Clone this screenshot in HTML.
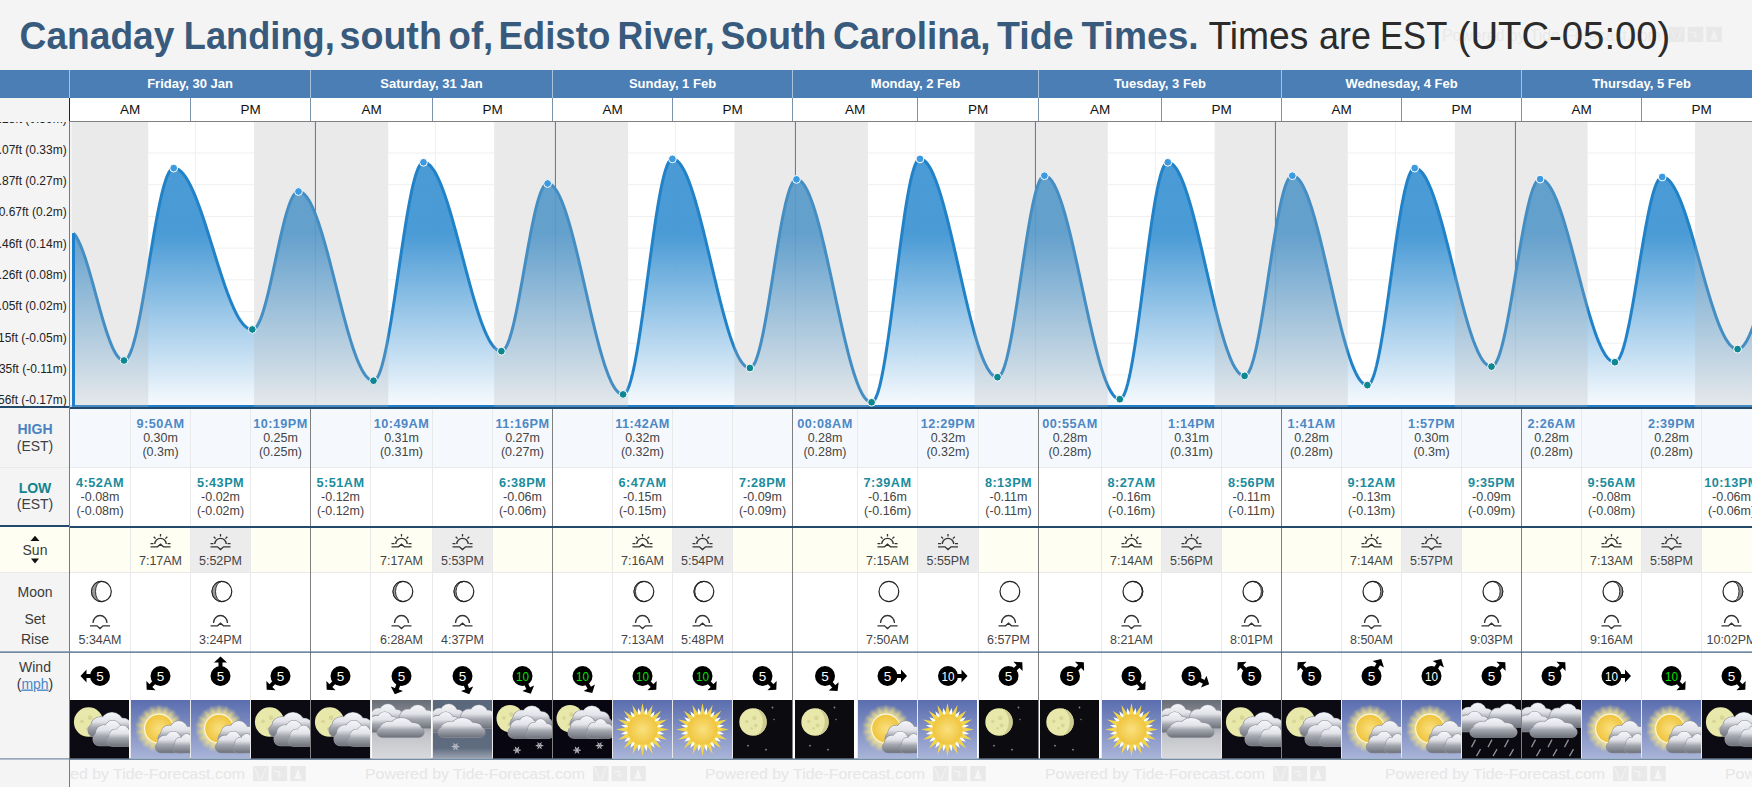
<!DOCTYPE html>
<html><head><meta charset="utf-8"><title>Canaday Landing Tide Times</title>
<style>html,body{margin:0;padding:0;background:#f4f4f4;width:1752px;height:787px;overflow:hidden;font-family:'Liberation Sans', sans-serif}</style>
</head><body><svg width="1752" height="787" viewBox="0 0 1752 787" style="position:absolute;left:0;top:0;font-family:'Liberation Sans', sans-serif"><defs><linearGradient id="gsky" x1="0" y1="0" x2="0" y2="1"><stop offset="0" stop-color="#5a6daf"/><stop offset="1" stop-color="#a9b4d8"/></linearGradient><linearGradient id="gcl" x1="0" y1="0" x2="0" y2="1"><stop offset="0" stop-color="#f5f6fa"/><stop offset="0.38" stop-color="#e2e3e8"/><stop offset="0.62" stop-color="#a3a6ae"/><stop offset="1" stop-color="#6f737c"/></linearGradient><linearGradient id="gcld" x1="0" y1="0" x2="0" y2="1"><stop offset="0" stop-color="#686c75"/><stop offset="0.3" stop-color="#8d9098"/><stop offset="0.6" stop-color="#c3c4c9"/><stop offset="1" stop-color="#d9dadd"/></linearGradient><linearGradient id="gsnow" x1="0" y1="0" x2="0" y2="1"><stop offset="0" stop-color="#5b687b"/><stop offset="0.82" stop-color="#5f6c80"/><stop offset="1" stop-color="#9ea5b2"/></linearGradient><radialGradient id="gsun" cx="0.5" cy="0.5" r="0.5"><stop offset="0" stop-color="#f9e07e"/><stop offset="1" stop-color="#f0c53e"/></radialGradient><radialGradient id="gglow" cx="0.5" cy="0.5" r="0.5"><stop offset="0.5" stop-color="#fffbe0" stop-opacity="0.95"/><stop offset="0.75" stop-color="#f4e7a0" stop-opacity="0.55"/><stop offset="1" stop-color="#e8dc90" stop-opacity="0"/></radialGradient><filter id="fblur" x="-20%" y="-20%" width="140%" height="140%"><feGaussianBlur stdDeviation="0.9"/></filter><g id="w_npc"><rect width="59" height="58.5" fill="#0c0b13"/><circle cx="18.6" cy="22" r="14.7" fill="#e9e8ab"/><circle cx="11.99" cy="21.27" r="1.91" fill="#d8d697"/><circle cx="20.07" cy="17.59" r="2.35" fill="#d8d697"/><circle cx="21.54" cy="25.68" r="2.06" fill="#d8d697"/><circle cx="17.13" cy="28.62" r="1.47" fill="#d8d697"/><path d="M24.24,24.02 L57.76,24.02 A6.24,6.24 0 0 1 57.76,36.50 L24.24,36.50 A6.24,6.24 0 0 1 24.24,24.02 Z M21.22,24.98 a9.66,8.16 0 1 1 19.32,0 a9.66,8.16 0 1 1 -19.32,0 Z M31.34,22.10 a10.58,9.60 0 1 1 21.16,0 a10.58,9.60 0 1 1 -21.16,0 Z M43.76,25.70 a8.74,7.44 0 1 1 17.48,0 a8.74,7.44 0 1 1 -17.48,0 Z " fill="#8d9099" stroke="#8d9099" stroke-width="1.1"/><path d="M24.24,24.02 L57.76,24.02 A6.24,6.24 0 0 1 57.76,36.50 L24.24,36.50 A6.24,6.24 0 0 1 24.24,24.02 Z M21.22,24.98 a9.66,8.16 0 1 1 19.32,0 a9.66,8.16 0 1 1 -19.32,0 Z M31.34,22.10 a10.58,9.60 0 1 1 21.16,0 a10.58,9.60 0 1 1 -21.16,0 Z M43.76,25.70 a8.74,7.44 0 1 1 17.48,0 a8.74,7.44 0 1 1 -17.48,0 Z " fill="url(#gcl)"/><path d="M29.50,32.50 L54.50,32.50 A6.50,6.50 0 0 1 54.50,45.50 L29.50,45.50 A6.50,6.50 0 0 1 29.50,32.50 Z M25.66,33.50 a7.98,8.50 0 1 1 15.96,0 a7.98,8.50 0 1 1 -15.96,0 Z M34.02,30.50 a8.74,10.00 0 1 1 17.48,0 a8.74,10.00 0 1 1 -17.48,0 Z M44.28,34.25 a7.22,7.75 0 1 1 14.44,0 a7.22,7.75 0 1 1 -14.44,0 Z " fill="#8d9099" stroke="#8d9099" stroke-width="1.1"/><path d="M29.50,32.50 L54.50,32.50 A6.50,6.50 0 0 1 54.50,45.50 L29.50,45.50 A6.50,6.50 0 0 1 29.50,32.50 Z M25.66,33.50 a7.98,8.50 0 1 1 15.96,0 a7.98,8.50 0 1 1 -15.96,0 Z M34.02,30.50 a8.74,10.00 0 1 1 17.48,0 a8.74,10.00 0 1 1 -17.48,0 Z M44.28,34.25 a7.22,7.75 0 1 1 14.44,0 a7.22,7.75 0 1 1 -14.44,0 Z " fill="url(#gcl)"/><path d="M42.33,35.34 L61.67,35.34 A5.33,5.33 0 0 1 61.67,46.00 L42.33,46.00 A5.33,5.33 0 0 1 42.33,35.34 Z M39.10,36.16 a6.30,6.97 0 1 1 12.60,0 a6.30,6.97 0 1 1 -12.60,0 Z M45.70,33.70 a6.90,8.20 0 1 1 13.80,0 a6.90,8.20 0 1 1 -13.80,0 Z M53.80,36.77 a5.70,6.35 0 1 1 11.40,0 a5.70,6.35 0 1 1 -11.40,0 Z " fill="#8d9099" stroke="#8d9099" stroke-width="1.1"/><path d="M42.33,35.34 L61.67,35.34 A5.33,5.33 0 0 1 61.67,46.00 L42.33,46.00 A5.33,5.33 0 0 1 42.33,35.34 Z M39.10,36.16 a6.30,6.97 0 1 1 12.60,0 a6.30,6.97 0 1 1 -12.60,0 Z M45.70,33.70 a6.90,8.20 0 1 1 13.80,0 a6.90,8.20 0 1 1 -13.80,0 Z M53.80,36.77 a5.70,6.35 0 1 1 11.40,0 a5.70,6.35 0 1 1 -11.40,0 Z " fill="url(#gcl)"/></g><g id="w_dpc"><rect width="59" height="58.5" fill="url(#gsky)"/><circle cx="28" cy="28.5" r="24" fill="url(#gglow)"/><g filter="url(#fblur)"><path d="M26.66,14.56 L28.00,4.50 L29.34,14.56 Z M31.51,14.95 L36.21,5.95 L34.03,15.86 Z M35.93,16.96 L43.43,10.11 L37.99,18.69 Z M39.40,20.37 L48.78,16.50 L40.74,22.69 Z M41.49,24.76 L51.64,24.33 L41.96,27.40 Z M41.96,29.60 L51.64,32.67 L41.49,32.24 Z M40.74,34.31 L48.78,40.50 L39.40,36.63 Z M37.99,38.31 L43.43,46.89 L35.93,40.04 Z M34.03,41.14 L36.21,51.05 L31.51,42.05 Z M29.34,42.44 L28.00,52.50 L26.66,42.44 Z M24.49,42.05 L19.79,51.05 L21.97,41.14 Z M20.07,40.04 L12.57,46.89 L18.01,38.31 Z M16.60,36.63 L7.22,40.50 L15.26,34.31 Z M14.51,32.24 L4.36,32.67 L14.04,29.60 Z M14.04,27.40 L4.36,24.33 L14.51,24.76 Z M15.26,22.69 L7.22,16.50 L16.60,20.37 Z M18.01,18.69 L12.57,10.11 L20.07,16.96 Z M21.97,15.86 L19.79,5.95 L24.49,14.95 Z " fill="#f2dd6a"/></g><circle cx="28" cy="28.5" r="15" fill="#fffbe8" opacity="0.8"/><circle cx="28" cy="28.5" r="13.8" fill="url(#gsun)"/><path d="M33.24,32.52 L60.76,32.52 A6.24,6.24 0 0 1 60.76,45.00 L33.24,45.00 A6.24,6.24 0 0 1 33.24,32.52 Z M29.80,33.48 a8.40,8.16 0 1 1 16.80,0 a8.40,8.16 0 1 1 -16.80,0 Z M38.60,30.60 a9.20,9.60 0 1 1 18.40,0 a9.20,9.60 0 1 1 -18.40,0 Z M49.40,34.20 a7.60,7.44 0 1 1 15.20,0 a7.60,7.44 0 1 1 -15.20,0 Z " fill="#8d9099" stroke="#8d9099" stroke-width="1.1"/><path d="M33.24,32.52 L60.76,32.52 A6.24,6.24 0 0 1 60.76,45.00 L33.24,45.00 A6.24,6.24 0 0 1 33.24,32.52 Z M29.80,33.48 a8.40,8.16 0 1 1 16.80,0 a8.40,8.16 0 1 1 -16.80,0 Z M38.60,30.60 a9.20,9.60 0 1 1 18.40,0 a9.20,9.60 0 1 1 -18.40,0 Z M49.40,34.20 a7.60,7.44 0 1 1 15.20,0 a7.60,7.44 0 1 1 -15.20,0 Z " fill="url(#gcl)"/><path d="M29.96,41.58 L53.04,41.58 A5.46,5.46 0 0 1 53.04,52.50 L29.96,52.50 A5.46,5.46 0 0 1 29.96,41.58 Z M26.88,42.42 a7.14,7.14 0 1 1 14.28,0 a7.14,7.14 0 1 1 -14.28,0 Z M34.36,39.90 a7.82,8.40 0 1 1 15.64,0 a7.82,8.40 0 1 1 -15.64,0 Z M43.54,43.05 a6.46,6.51 0 1 1 12.92,0 a6.46,6.51 0 1 1 -12.92,0 Z " fill="#8d9099" stroke="#8d9099" stroke-width="1.1"/><path d="M29.96,41.58 L53.04,41.58 A5.46,5.46 0 0 1 53.04,52.50 L29.96,52.50 A5.46,5.46 0 0 1 29.96,41.58 Z M26.88,42.42 a7.14,7.14 0 1 1 14.28,0 a7.14,7.14 0 1 1 -14.28,0 Z M34.36,39.90 a7.82,8.40 0 1 1 15.64,0 a7.82,8.40 0 1 1 -15.64,0 Z M43.54,43.05 a6.46,6.51 0 1 1 12.92,0 a6.46,6.51 0 1 1 -12.92,0 Z " fill="url(#gcl)"/><path d="M46.81,42.88 L63.19,42.88 A4.81,4.81 0 0 1 63.19,52.50 L46.81,52.50 A4.81,4.81 0 0 1 46.81,42.88 Z M43.82,43.62 a5.46,6.29 0 1 1 10.92,0 a5.46,6.29 0 1 1 -10.92,0 Z M49.54,41.40 a5.98,7.40 0 1 1 11.96,0 a5.98,7.40 0 1 1 -11.96,0 Z M56.56,44.17 a4.94,5.74 0 1 1 9.88,0 a4.94,5.74 0 1 1 -9.88,0 Z " fill="#8d9099" stroke="#8d9099" stroke-width="1.1"/><path d="M46.81,42.88 L63.19,42.88 A4.81,4.81 0 0 1 63.19,52.50 L46.81,52.50 A4.81,4.81 0 0 1 46.81,42.88 Z M43.82,43.62 a5.46,6.29 0 1 1 10.92,0 a5.46,6.29 0 1 1 -10.92,0 Z M49.54,41.40 a5.98,7.40 0 1 1 11.96,0 a5.98,7.40 0 1 1 -11.96,0 Z M56.56,44.17 a4.94,5.74 0 1 1 9.88,0 a4.94,5.74 0 1 1 -9.88,0 Z " fill="url(#gcl)"/></g><g id="w_sun"><rect width="59" height="58.5" fill="url(#gsky)"/><path d="M29.50,15.50 L33.79,7.92 L34.86,16.57 Z M34.86,16.57 L41.72,11.21 L39.40,19.60 Z M39.40,19.60 L47.79,17.28 L42.43,24.14 Z M42.43,24.14 L51.08,25.21 L43.50,29.50 Z M43.50,29.50 L51.08,33.79 L42.43,34.86 Z M42.43,34.86 L47.79,41.72 L39.40,39.40 Z M39.40,39.40 L41.72,47.79 L34.86,42.43 Z M34.86,42.43 L33.79,51.08 L29.50,43.50 Z M29.50,43.50 L25.21,51.08 L24.14,42.43 Z M24.14,42.43 L17.28,47.79 L19.60,39.40 Z M19.60,39.40 L11.21,41.72 L16.57,34.86 Z M16.57,34.86 L7.92,33.79 L15.50,29.50 Z M15.50,29.50 L7.92,25.21 L16.57,24.14 Z M16.57,24.14 L11.21,17.28 L19.60,19.60 Z M19.60,19.60 L17.28,11.21 L24.14,16.57 Z M24.14,16.57 L25.21,7.92 L29.50,15.50 Z " fill="#ffffff"/><path d="M27.01,14.71 L29.50,3.00 L31.99,14.71 Z M32.86,14.88 L39.64,5.02 L37.46,16.79 Z M38.20,17.28 L48.24,10.76 L41.72,20.80 Z M42.21,21.54 L53.98,19.36 L44.12,26.14 Z M44.29,27.01 L56.00,29.50 L44.29,31.99 Z M44.12,32.86 L53.98,39.64 L42.21,37.46 Z M41.72,38.20 L48.24,48.24 L38.20,41.72 Z M37.46,42.21 L39.64,53.98 L32.86,44.12 Z M31.99,44.29 L29.50,56.00 L27.01,44.29 Z M26.14,44.12 L19.36,53.98 L21.54,42.21 Z M20.80,41.72 L10.76,48.24 L17.28,38.20 Z M16.79,37.46 L5.02,39.64 L14.88,32.86 Z M14.71,31.99 L3.00,29.50 L14.71,27.01 Z M14.88,26.14 L5.02,19.36 L16.79,21.54 Z M17.28,20.80 L10.76,10.76 L20.80,17.28 Z M21.54,16.79 L19.36,5.02 L26.14,14.88 Z " fill="#f3d54a"/><circle cx="29.5" cy="29.5" r="15.2" fill="url(#gsun)"/></g><g id="w_nclr"><rect width="59" height="58.5" fill="#0b0b10"/><circle cx="20" cy="22" r="13.7" fill="#e9e8ab"/><path d="M20.00,8.30 A13.7,13.7 0 0 1 20.00,35.70 A9.86,13.7 0 0 0 20.00,8.30 Z" fill="#cdcb8f"/><circle cx="13.84" cy="21.32" r="1.78" fill="#d8d697"/><circle cx="21.37" cy="17.89" r="2.19" fill="#d8d697"/><circle cx="22.74" cy="25.43" r="1.92" fill="#d8d697"/><circle cx="18.63" cy="28.16" r="1.37" fill="#d8d697"/><circle cx="39.5" cy="7.5" r="0.9" fill="#8a8a8a"/><circle cx="41" cy="19.5" r="0.7" fill="#8a8a8a"/><circle cx="15" cy="45.5" r="0.9" fill="#8a8a8a"/><circle cx="33" cy="49.5" r="0.9" fill="#8a8a8a"/></g><g id="w_cld"><rect width="59" height="58.5" fill="url(#gcld)"/><path d="M2.24,15.52 L27.76,15.52 A6.24,6.24 0 0 1 27.76,28.00 L2.24,28.00 A6.24,6.24 0 0 1 2.24,15.52 Z M-1.34,16.48 a7.98,8.16 0 1 1 15.96,0 a7.98,8.16 0 1 1 -15.96,0 Z M7.02,13.60 a8.74,9.60 0 1 1 17.48,0 a8.74,9.60 0 1 1 -17.48,0 Z M17.28,17.20 a7.22,7.44 0 1 1 14.44,0 a7.22,7.44 0 1 1 -14.44,0 Z " fill="#8d9099" stroke="#8d9099" stroke-width="1.1"/><path d="M2.24,15.52 L27.76,15.52 A6.24,6.24 0 0 1 27.76,28.00 L2.24,28.00 A6.24,6.24 0 0 1 2.24,15.52 Z M-1.34,16.48 a7.98,8.16 0 1 1 15.96,0 a7.98,8.16 0 1 1 -15.96,0 Z M7.02,13.60 a8.74,9.60 0 1 1 17.48,0 a8.74,9.60 0 1 1 -17.48,0 Z M17.28,17.20 a7.22,7.44 0 1 1 14.44,0 a7.22,7.44 0 1 1 -14.44,0 Z " fill="url(#gcl)"/><path d="M30.98,16.04 L59.02,16.04 A5.98,5.98 0 0 1 59.02,28.00 L30.98,28.00 A5.98,5.98 0 0 1 30.98,16.04 Z M27.80,16.96 a8.40,7.82 0 1 1 16.80,0 a8.40,7.82 0 1 1 -16.80,0 Z M36.60,14.20 a9.20,9.20 0 1 1 18.40,0 a9.20,9.20 0 1 1 -18.40,0 Z M47.40,17.65 a7.60,7.13 0 1 1 15.20,0 a7.60,7.13 0 1 1 -15.20,0 Z " fill="#8d9099" stroke="#8d9099" stroke-width="1.1"/><path d="M30.98,16.04 L59.02,16.04 A5.98,5.98 0 0 1 59.02,28.00 L30.98,28.00 A5.98,5.98 0 0 1 30.98,16.04 Z M27.80,16.96 a8.40,7.82 0 1 1 16.80,0 a8.40,7.82 0 1 1 -16.80,0 Z M36.60,14.20 a9.20,9.20 0 1 1 18.40,0 a9.20,9.20 0 1 1 -18.40,0 Z M47.40,17.65 a7.60,7.13 0 1 1 15.20,0 a7.60,7.13 0 1 1 -15.20,0 Z " fill="url(#gcl)"/><path d="M0.20,21.60 L23.80,21.60 A5.20,5.20 0 0 1 23.80,32.00 L0.20,32.00 A5.20,5.20 0 0 1 0.20,21.60 Z M-2.62,22.40 a7.14,6.80 0 1 1 14.28,0 a7.14,6.80 0 1 1 -14.28,0 Z M4.86,20.00 a7.82,8.00 0 1 1 15.64,0 a7.82,8.00 0 1 1 -15.64,0 Z M14.04,23.00 a6.46,6.20 0 1 1 12.92,0 a6.46,6.20 0 1 1 -12.92,0 Z " fill="#8d9099" stroke="#8d9099" stroke-width="1.1"/><path d="M0.20,21.60 L23.80,21.60 A5.20,5.20 0 0 1 23.80,32.00 L0.20,32.00 A5.20,5.20 0 0 1 0.20,21.60 Z M-2.62,22.40 a7.14,6.80 0 1 1 14.28,0 a7.14,6.80 0 1 1 -14.28,0 Z M4.86,20.00 a7.82,8.00 0 1 1 15.64,0 a7.82,8.00 0 1 1 -15.64,0 Z M14.04,23.00 a6.46,6.20 0 1 1 12.92,0 a6.46,6.20 0 1 1 -12.92,0 Z " fill="url(#gcl)"/><path d="M9.94,27.12 L47.06,27.12 A4.94,4.94 0 0 1 47.06,37.00 L9.94,37.00 A4.94,4.94 0 0 1 9.94,27.12 Z M8.29,27.88 a9.87,6.46 0 1 1 19.74,0 a9.87,6.46 0 1 1 -19.74,0 Z M18.63,25.60 a10.81,7.60 0 1 1 21.62,0 a10.81,7.60 0 1 1 -21.62,0 Z M31.32,28.45 a8.93,5.89 0 1 1 17.86,0 a8.93,5.89 0 1 1 -17.86,0 Z " fill="#8d9099" stroke="#8d9099" stroke-width="1.1"/><path d="M9.94,27.12 L47.06,27.12 A4.94,4.94 0 0 1 47.06,37.00 L9.94,37.00 A4.94,4.94 0 0 1 9.94,27.12 Z M8.29,27.88 a9.87,6.46 0 1 1 19.74,0 a9.87,6.46 0 1 1 -19.74,0 Z M18.63,25.60 a10.81,7.60 0 1 1 21.62,0 a10.81,7.60 0 1 1 -21.62,0 Z M31.32,28.45 a8.93,5.89 0 1 1 17.86,0 a8.93,5.89 0 1 1 -17.86,0 Z " fill="url(#gcl)"/></g><g id="w_cldsnow"><rect width="59" height="58.5" fill="url(#gsnow)"/><path d="M2.24,15.52 L27.76,15.52 A6.24,6.24 0 0 1 27.76,28.00 L2.24,28.00 A6.24,6.24 0 0 1 2.24,15.52 Z M-1.34,16.48 a7.98,8.16 0 1 1 15.96,0 a7.98,8.16 0 1 1 -15.96,0 Z M7.02,13.60 a8.74,9.60 0 1 1 17.48,0 a8.74,9.60 0 1 1 -17.48,0 Z M17.28,17.20 a7.22,7.44 0 1 1 14.44,0 a7.22,7.44 0 1 1 -14.44,0 Z " fill="#8d9099" stroke="#8d9099" stroke-width="1.1"/><path d="M2.24,15.52 L27.76,15.52 A6.24,6.24 0 0 1 27.76,28.00 L2.24,28.00 A6.24,6.24 0 0 1 2.24,15.52 Z M-1.34,16.48 a7.98,8.16 0 1 1 15.96,0 a7.98,8.16 0 1 1 -15.96,0 Z M7.02,13.60 a8.74,9.60 0 1 1 17.48,0 a8.74,9.60 0 1 1 -17.48,0 Z M17.28,17.20 a7.22,7.44 0 1 1 14.44,0 a7.22,7.44 0 1 1 -14.44,0 Z " fill="url(#gcl)"/><path d="M30.98,16.04 L59.02,16.04 A5.98,5.98 0 0 1 59.02,28.00 L30.98,28.00 A5.98,5.98 0 0 1 30.98,16.04 Z M27.80,16.96 a8.40,7.82 0 1 1 16.80,0 a8.40,7.82 0 1 1 -16.80,0 Z M36.60,14.20 a9.20,9.20 0 1 1 18.40,0 a9.20,9.20 0 1 1 -18.40,0 Z M47.40,17.65 a7.60,7.13 0 1 1 15.20,0 a7.60,7.13 0 1 1 -15.20,0 Z " fill="#8d9099" stroke="#8d9099" stroke-width="1.1"/><path d="M30.98,16.04 L59.02,16.04 A5.98,5.98 0 0 1 59.02,28.00 L30.98,28.00 A5.98,5.98 0 0 1 30.98,16.04 Z M27.80,16.96 a8.40,7.82 0 1 1 16.80,0 a8.40,7.82 0 1 1 -16.80,0 Z M36.60,14.20 a9.20,9.20 0 1 1 18.40,0 a9.20,9.20 0 1 1 -18.40,0 Z M47.40,17.65 a7.60,7.13 0 1 1 15.20,0 a7.60,7.13 0 1 1 -15.20,0 Z " fill="url(#gcl)"/><path d="M0.20,21.60 L23.80,21.60 A5.20,5.20 0 0 1 23.80,32.00 L0.20,32.00 A5.20,5.20 0 0 1 0.20,21.60 Z M-2.62,22.40 a7.14,6.80 0 1 1 14.28,0 a7.14,6.80 0 1 1 -14.28,0 Z M4.86,20.00 a7.82,8.00 0 1 1 15.64,0 a7.82,8.00 0 1 1 -15.64,0 Z M14.04,23.00 a6.46,6.20 0 1 1 12.92,0 a6.46,6.20 0 1 1 -12.92,0 Z " fill="#8d9099" stroke="#8d9099" stroke-width="1.1"/><path d="M0.20,21.60 L23.80,21.60 A5.20,5.20 0 0 1 23.80,32.00 L0.20,32.00 A5.20,5.20 0 0 1 0.20,21.60 Z M-2.62,22.40 a7.14,6.80 0 1 1 14.28,0 a7.14,6.80 0 1 1 -14.28,0 Z M4.86,20.00 a7.82,8.00 0 1 1 15.64,0 a7.82,8.00 0 1 1 -15.64,0 Z M14.04,23.00 a6.46,6.20 0 1 1 12.92,0 a6.46,6.20 0 1 1 -12.92,0 Z " fill="url(#gcl)"/><path d="M9.94,27.12 L47.06,27.12 A4.94,4.94 0 0 1 47.06,37.00 L9.94,37.00 A4.94,4.94 0 0 1 9.94,27.12 Z M8.29,27.88 a9.87,6.46 0 1 1 19.74,0 a9.87,6.46 0 1 1 -19.74,0 Z M18.63,25.60 a10.81,7.60 0 1 1 21.62,0 a10.81,7.60 0 1 1 -21.62,0 Z M31.32,28.45 a8.93,5.89 0 1 1 17.86,0 a8.93,5.89 0 1 1 -17.86,0 Z " fill="#8d9099" stroke="#8d9099" stroke-width="1.1"/><path d="M9.94,27.12 L47.06,27.12 A4.94,4.94 0 0 1 47.06,37.00 L9.94,37.00 A4.94,4.94 0 0 1 9.94,27.12 Z M8.29,27.88 a9.87,6.46 0 1 1 19.74,0 a9.87,6.46 0 1 1 -19.74,0 Z M18.63,25.60 a10.81,7.60 0 1 1 21.62,0 a10.81,7.60 0 1 1 -21.62,0 Z M31.32,28.45 a8.93,5.89 0 1 1 17.86,0 a8.93,5.89 0 1 1 -17.86,0 Z " fill="url(#gcl)"/><path d="M18.70,46.50 L26.30,46.50 M20.60,43.21 L24.40,49.79 M24.40,43.21 L20.60,49.79 " stroke="#c9cbd2" stroke-width="0.9"/><circle cx="22.5" cy="46.5" r="2.09" fill="none" stroke="#c9cbd2" stroke-width="0.6"/></g><g id="w_npcsnow"><rect width="59" height="58.5" fill="#080711"/><circle cx="17" cy="18.5" r="13.5" fill="#e9e8ab"/><circle cx="10.93" cy="17.82" r="1.76" fill="#d8d697"/><circle cx="18.35" cy="14.45" r="2.16" fill="#d8d697"/><circle cx="19.70" cy="21.88" r="1.89" fill="#d8d697"/><circle cx="15.65" cy="24.57" r="1.35" fill="#d8d697"/><path d="M23.24,17.52 L52.76,17.52 A6.24,6.24 0 0 1 52.76,30.00 L23.24,30.00 A6.24,6.24 0 0 1 23.24,17.52 Z M19.94,18.48 a8.82,8.16 0 1 1 17.64,0 a8.82,8.16 0 1 1 -17.64,0 Z M29.18,15.60 a9.66,9.60 0 1 1 19.32,0 a9.66,9.60 0 1 1 -19.32,0 Z M40.52,19.20 a7.98,7.44 0 1 1 15.96,0 a7.98,7.44 0 1 1 -15.96,0 Z " fill="#8d9099" stroke="#8d9099" stroke-width="1.1"/><path d="M23.24,17.52 L52.76,17.52 A6.24,6.24 0 0 1 52.76,30.00 L23.24,30.00 A6.24,6.24 0 0 1 23.24,17.52 Z M19.94,18.48 a8.82,8.16 0 1 1 17.64,0 a8.82,8.16 0 1 1 -17.64,0 Z M29.18,15.60 a9.66,9.60 0 1 1 19.32,0 a9.66,9.60 0 1 1 -19.32,0 Z M40.52,19.20 a7.98,7.44 0 1 1 15.96,0 a7.98,7.44 0 1 1 -15.96,0 Z " fill="url(#gcl)"/><path d="M20.72,26.56 L45.28,26.56 A5.72,5.72 0 0 1 45.28,38.00 L20.72,38.00 A5.72,5.72 0 0 1 20.72,26.56 Z M17.52,27.44 a7.56,7.48 0 1 1 15.12,0 a7.56,7.48 0 1 1 -15.12,0 Z M25.44,24.80 a8.28,8.80 0 1 1 16.56,0 a8.28,8.80 0 1 1 -16.56,0 Z M35.16,28.10 a6.84,6.82 0 1 1 13.68,0 a6.84,6.82 0 1 1 -13.68,0 Z " fill="#8d9099" stroke="#8d9099" stroke-width="1.1"/><path d="M20.72,26.56 L45.28,26.56 A5.72,5.72 0 0 1 45.28,38.00 L20.72,38.00 A5.72,5.72 0 0 1 20.72,26.56 Z M17.52,27.44 a7.56,7.48 0 1 1 15.12,0 a7.56,7.48 0 1 1 -15.12,0 Z M25.44,24.80 a8.28,8.80 0 1 1 16.56,0 a8.28,8.80 0 1 1 -16.56,0 Z M35.16,28.10 a6.84,6.82 0 1 1 13.68,0 a6.84,6.82 0 1 1 -13.68,0 Z " fill="url(#gcl)"/><path d="M37.94,28.12 L56.06,28.12 A4.94,4.94 0 0 1 56.06,38.00 L37.94,38.00 A4.94,4.94 0 0 1 37.94,28.12 Z M34.96,28.88 a5.88,6.46 0 1 1 11.76,0 a5.88,6.46 0 1 1 -11.76,0 Z M41.12,26.60 a6.44,7.60 0 1 1 12.88,0 a6.44,7.60 0 1 1 -12.88,0 Z M48.68,29.45 a5.32,5.89 0 1 1 10.64,0 a5.32,5.89 0 1 1 -10.64,0 Z " fill="#8d9099" stroke="#8d9099" stroke-width="1.1"/><path d="M37.94,28.12 L56.06,28.12 A4.94,4.94 0 0 1 56.06,38.00 L37.94,38.00 A4.94,4.94 0 0 1 37.94,28.12 Z M34.96,28.88 a5.88,6.46 0 1 1 11.76,0 a5.88,6.46 0 1 1 -11.76,0 Z M41.12,26.60 a6.44,7.60 0 1 1 12.88,0 a6.44,7.60 0 1 1 -12.88,0 Z M48.68,29.45 a5.32,5.89 0 1 1 10.64,0 a5.32,5.89 0 1 1 -10.64,0 Z " fill="url(#gcl)"/><path d="M20.20,50.00 L27.80,50.00 M22.10,46.71 L25.90,53.29 M25.90,46.71 L22.10,53.29 " stroke="#c9cbd2" stroke-width="0.9"/><circle cx="24" cy="50" r="2.09" fill="none" stroke="#c9cbd2" stroke-width="0.6"/><path d="M42.70,45.50 L50.30,45.50 M44.60,42.21 L48.40,48.79 M48.40,42.21 L44.60,48.79 " stroke="#c9cbd2" stroke-width="0.9"/><circle cx="46.5" cy="45.5" r="2.09" fill="none" stroke="#c9cbd2" stroke-width="0.6"/></g><g id="w_nrain"><rect width="59" height="58.5" fill="#0b0a11"/><path d="M2.24,14.52 L27.76,14.52 A6.24,6.24 0 0 1 27.76,27.00 L2.24,27.00 A6.24,6.24 0 0 1 2.24,14.52 Z M-1.34,15.48 a7.98,8.16 0 1 1 15.96,0 a7.98,8.16 0 1 1 -15.96,0 Z M7.02,12.60 a8.74,9.60 0 1 1 17.48,0 a8.74,9.60 0 1 1 -17.48,0 Z M17.28,16.20 a7.22,7.44 0 1 1 14.44,0 a7.22,7.44 0 1 1 -14.44,0 Z " fill="#8d9099" stroke="#8d9099" stroke-width="1.1"/><path d="M2.24,14.52 L27.76,14.52 A6.24,6.24 0 0 1 27.76,27.00 L2.24,27.00 A6.24,6.24 0 0 1 2.24,14.52 Z M-1.34,15.48 a7.98,8.16 0 1 1 15.96,0 a7.98,8.16 0 1 1 -15.96,0 Z M7.02,12.60 a8.74,9.60 0 1 1 17.48,0 a8.74,9.60 0 1 1 -17.48,0 Z M17.28,16.20 a7.22,7.44 0 1 1 14.44,0 a7.22,7.44 0 1 1 -14.44,0 Z " fill="url(#gcl)"/><path d="M30.98,15.04 L59.02,15.04 A5.98,5.98 0 0 1 59.02,27.00 L30.98,27.00 A5.98,5.98 0 0 1 30.98,15.04 Z M27.80,15.96 a8.40,7.82 0 1 1 16.80,0 a8.40,7.82 0 1 1 -16.80,0 Z M36.60,13.20 a9.20,9.20 0 1 1 18.40,0 a9.20,9.20 0 1 1 -18.40,0 Z M47.40,16.65 a7.60,7.13 0 1 1 15.20,0 a7.60,7.13 0 1 1 -15.20,0 Z " fill="#8d9099" stroke="#8d9099" stroke-width="1.1"/><path d="M30.98,15.04 L59.02,15.04 A5.98,5.98 0 0 1 59.02,27.00 L30.98,27.00 A5.98,5.98 0 0 1 30.98,15.04 Z M27.80,15.96 a8.40,7.82 0 1 1 16.80,0 a8.40,7.82 0 1 1 -16.80,0 Z M36.60,13.20 a9.20,9.20 0 1 1 18.40,0 a9.20,9.20 0 1 1 -18.40,0 Z M47.40,16.65 a7.60,7.13 0 1 1 15.20,0 a7.60,7.13 0 1 1 -15.20,0 Z " fill="url(#gcl)"/><path d="M0.20,21.10 L23.80,21.10 A5.20,5.20 0 0 1 23.80,31.50 L0.20,31.50 A5.20,5.20 0 0 1 0.20,21.10 Z M-2.62,21.90 a7.14,6.80 0 1 1 14.28,0 a7.14,6.80 0 1 1 -14.28,0 Z M4.86,19.50 a7.82,8.00 0 1 1 15.64,0 a7.82,8.00 0 1 1 -15.64,0 Z M14.04,22.50 a6.46,6.20 0 1 1 12.92,0 a6.46,6.20 0 1 1 -12.92,0 Z " fill="#8d9099" stroke="#8d9099" stroke-width="1.1"/><path d="M0.20,21.10 L23.80,21.10 A5.20,5.20 0 0 1 23.80,31.50 L0.20,31.50 A5.20,5.20 0 0 1 0.20,21.10 Z M-2.62,21.90 a7.14,6.80 0 1 1 14.28,0 a7.14,6.80 0 1 1 -14.28,0 Z M4.86,19.50 a7.82,8.00 0 1 1 15.64,0 a7.82,8.00 0 1 1 -15.64,0 Z M14.04,22.50 a6.46,6.20 0 1 1 12.92,0 a6.46,6.20 0 1 1 -12.92,0 Z " fill="url(#gcl)"/><path d="M12.94,27.12 L50.06,27.12 A4.94,4.94 0 0 1 50.06,37.00 L12.94,37.00 A4.94,4.94 0 0 1 12.94,27.12 Z M11.29,27.88 a9.87,6.46 0 1 1 19.74,0 a9.87,6.46 0 1 1 -19.74,0 Z M21.63,25.60 a10.81,7.60 0 1 1 21.62,0 a10.81,7.60 0 1 1 -21.62,0 Z M34.32,28.45 a8.93,5.89 0 1 1 17.86,0 a8.93,5.89 0 1 1 -17.86,0 Z " fill="#8d9099" stroke="#8d9099" stroke-width="1.1"/><path d="M12.94,27.12 L50.06,27.12 A4.94,4.94 0 0 1 50.06,37.00 L12.94,37.00 A4.94,4.94 0 0 1 12.94,27.12 Z M11.29,27.88 a9.87,6.46 0 1 1 19.74,0 a9.87,6.46 0 1 1 -19.74,0 Z M21.63,25.60 a10.81,7.60 0 1 1 21.62,0 a10.81,7.60 0 1 1 -21.62,0 Z M34.32,28.45 a8.93,5.89 0 1 1 17.86,0 a8.93,5.89 0 1 1 -17.86,0 Z " fill="url(#gcl)"/><path d="M13.5,39.5 L9.5,47 M30,39.5 L26,47 M46.5,39.5 L42.5,47 M18.5,49 L14.5,56 M35,49 L31,56 M51.5,49 L47.5,56" stroke="#8d8f96" stroke-width="1.3"/></g></defs><rect x="0" y="0" width="1752" height="787" fill="#f4f4f4"/><text x="1442.00" y="41.00" font-size="17" font-weight="400" fill="#e9e9e9" text-anchor="start" textLength="219" lengthAdjust="spacingAndGlyphs" >Powered by Tide-Forecast.com</text><rect x="1669.1" y="26.8" width="15.6" height="15.2" fill="#e8e8e8"/><rect x="1687.7" y="26.8" width="15.6" height="15.2" fill="#e8e8e8"/><rect x="1706.3" y="26.8" width="15.6" height="15.2" fill="#e8e8e8"/><path d="M1670.1,27.8 C1672.1,27.8 1674.1,40.8 1676.6,40.8 C1679.1,40.8 1680.1,27.8 1683.6,27.8" fill="none" stroke="#f1f1f1" stroke-width="1"/><path d="M1690.1999999999998,32.3 L1695.6999999999998,32.3 L1695.6999999999998,37.3 M1693.1999999999998,35.3 L1695.6999999999998,37.8 L1698.1999999999998,35.3" fill="none" stroke="#f1f1f1" stroke-width="1"/><path d="M1714.1,29.3 L1717.8,39.8 L1710.3,39.8 Z" fill="#f1f1f1"/><text x="19.60" y="49.00" font-size="39" font-weight="700" fill="#385a7c" text-anchor="start" textLength="154.81" lengthAdjust="spacingAndGlyphs" >Canaday</text><text x="183.80" y="49.00" font-size="39" font-weight="700" fill="#385a7c" text-anchor="start" textLength="150.91" lengthAdjust="spacingAndGlyphs" >Landing,</text><text x="339.50" y="49.00" font-size="39" font-weight="700" fill="#385a7c" text-anchor="start" textLength="102.38" lengthAdjust="spacingAndGlyphs" >south</text><text x="448.60" y="49.00" font-size="39" font-weight="700" fill="#385a7c" text-anchor="start" textLength="44.67" lengthAdjust="spacingAndGlyphs" >of,</text><text x="498.40" y="49.00" font-size="39" font-weight="700" fill="#385a7c" text-anchor="start" textLength="111.91" lengthAdjust="spacingAndGlyphs" >Edisto</text><text x="617.60" y="49.00" font-size="39" font-weight="700" fill="#385a7c" text-anchor="start" textLength="97.18" lengthAdjust="spacingAndGlyphs" >River,</text><text x="720.40" y="49.00" font-size="39" font-weight="700" fill="#385a7c" text-anchor="start" textLength="105.88" lengthAdjust="spacingAndGlyphs" >South</text><text x="832.90" y="49.00" font-size="39" font-weight="700" fill="#385a7c" text-anchor="start" textLength="157.67" lengthAdjust="spacingAndGlyphs" >Carolina,</text><text x="997.00" y="49.00" font-size="39" font-weight="700" fill="#385a7c" text-anchor="start" textLength="76.62" lengthAdjust="spacingAndGlyphs" >Tide</text><text x="1081.60" y="49.00" font-size="39" font-weight="700" fill="#385a7c" text-anchor="start" textLength="117.04" lengthAdjust="spacingAndGlyphs" >Times.</text><text x="1208.40" y="49.00" font-size="39" font-weight="400" fill="#2b2b2b" text-anchor="start" textLength="100.04" lengthAdjust="spacingAndGlyphs" >Times</text><text x="1319.00" y="49.00" font-size="39" font-weight="400" fill="#2b2b2b" text-anchor="start" textLength="51.88" lengthAdjust="spacingAndGlyphs" >are</text><text x="1380.00" y="49.00" font-size="39" font-weight="400" fill="#2b2b2b" text-anchor="start" textLength="67.42" lengthAdjust="spacingAndGlyphs" >EST</text><text x="1457.70" y="49.00" font-size="39" font-weight="400" fill="#2b2b2b" text-anchor="start" textLength="212.67" lengthAdjust="spacingAndGlyphs" >(UTC-05:00)</text><rect x="0" y="70" width="1752" height="28" fill="#4a7eb4"/><rect x="69" y="70" width="1" height="28" fill="#a9c3dc"/><text x="190.00" y="88.30" font-size="13" font-weight="700" fill="#ffffff" text-anchor="middle" >Friday, 30 Jan</text><rect x="310" y="70" width="1" height="28" fill="#a9c3dc"/><text x="431.50" y="88.30" font-size="13" font-weight="700" fill="#ffffff" text-anchor="middle" >Saturday, 31 Jan</text><rect x="552" y="70" width="1" height="28" fill="#a9c3dc"/><text x="672.50" y="88.30" font-size="13" font-weight="700" fill="#ffffff" text-anchor="middle" >Sunday, 1 Feb</text><rect x="792" y="70" width="1" height="28" fill="#a9c3dc"/><text x="915.50" y="88.30" font-size="13" font-weight="700" fill="#ffffff" text-anchor="middle" >Monday, 2 Feb</text><rect x="1038" y="70" width="1" height="28" fill="#a9c3dc"/><text x="1160.00" y="88.30" font-size="13" font-weight="700" fill="#ffffff" text-anchor="middle" >Tuesday, 3 Feb</text><rect x="1281" y="70" width="1" height="28" fill="#a9c3dc"/><text x="1401.50" y="88.30" font-size="13" font-weight="700" fill="#ffffff" text-anchor="middle" >Wednesday, 4 Feb</text><rect x="1521" y="70" width="1" height="28" fill="#a9c3dc"/><text x="1641.50" y="88.30" font-size="13" font-weight="700" fill="#ffffff" text-anchor="middle" >Thursday, 5 Feb</text><rect x="70" y="98" width="1682" height="23" fill="#ffffff"/><rect x="69" y="98" width="1" height="23" fill="#222"/><rect x="190" y="98" width="1" height="23" fill="#7a93ad"/><rect x="310" y="98" width="1" height="23" fill="#7a93ad"/><rect x="432" y="98" width="1" height="23" fill="#7a93ad"/><rect x="552" y="98" width="1" height="23" fill="#7a93ad"/><rect x="672" y="98" width="1" height="23" fill="#7a93ad"/><rect x="792" y="98" width="1" height="23" fill="#7a93ad"/><rect x="917" y="98" width="1" height="23" fill="#7a93ad"/><rect x="1038" y="98" width="1" height="23" fill="#7a93ad"/><rect x="1161" y="98" width="1" height="23" fill="#7a93ad"/><rect x="1281" y="98" width="1" height="23" fill="#7a93ad"/><rect x="1401" y="98" width="1" height="23" fill="#7a93ad"/><rect x="1521" y="98" width="1" height="23" fill="#7a93ad"/><rect x="1641" y="98" width="1" height="23" fill="#7a93ad"/><text x="130.00" y="114.30" font-size="13.5" font-weight="400" fill="#111" text-anchor="middle" >AM</text><text x="250.50" y="114.30" font-size="13.5" font-weight="400" fill="#111" text-anchor="middle" >PM</text><text x="371.50" y="114.30" font-size="13.5" font-weight="400" fill="#111" text-anchor="middle" >AM</text><text x="492.50" y="114.30" font-size="13.5" font-weight="400" fill="#111" text-anchor="middle" >PM</text><text x="612.50" y="114.30" font-size="13.5" font-weight="400" fill="#111" text-anchor="middle" >AM</text><text x="732.50" y="114.30" font-size="13.5" font-weight="400" fill="#111" text-anchor="middle" >PM</text><text x="855.00" y="114.30" font-size="13.5" font-weight="400" fill="#111" text-anchor="middle" >AM</text><text x="978.00" y="114.30" font-size="13.5" font-weight="400" fill="#111" text-anchor="middle" >PM</text><text x="1100.00" y="114.30" font-size="13.5" font-weight="400" fill="#111" text-anchor="middle" >AM</text><text x="1221.50" y="114.30" font-size="13.5" font-weight="400" fill="#111" text-anchor="middle" >PM</text><text x="1341.50" y="114.30" font-size="13.5" font-weight="400" fill="#111" text-anchor="middle" >AM</text><text x="1461.50" y="114.30" font-size="13.5" font-weight="400" fill="#111" text-anchor="middle" >PM</text><text x="1581.50" y="114.30" font-size="13.5" font-weight="400" fill="#111" text-anchor="middle" >AM</text><text x="1701.50" y="114.30" font-size="13.5" font-weight="400" fill="#111" text-anchor="middle" >PM</text><defs><clipPath id="cc"><rect x="70" y="122" width="1682" height="285"/></clipPath><linearGradient id="fg" gradientUnits="userSpaceOnUse" x1="0" y1="122" x2="0" y2="407"><stop offset="0" stop-color="#3a92d2"/><stop offset="0.39" stop-color="#3a92d2"/><stop offset="1" stop-color="#f8fbfe"/></linearGradient></defs><g clip-path="url(#cc)"><rect x="70" y="122" width="1682" height="285" fill="#ffffff"/><rect x="70" y="152.50" width="1682" height="1" fill="#efefef"/><rect x="70" y="184.20" width="1682" height="1" fill="#efefef"/><rect x="70" y="215.90" width="1682" height="1" fill="#efefef"/><rect x="70" y="247.60" width="1682" height="1" fill="#efefef"/><rect x="70" y="279.30" width="1682" height="1" fill="#efefef"/><rect x="70" y="311.00" width="1682" height="1" fill="#efefef"/><rect x="70" y="342.70" width="1682" height="1" fill="#efefef"/><rect x="70" y="374.40" width="1682" height="1" fill="#efefef"/><rect x="134.90" y="122" width="1" height="285" fill="#efefef"/><rect x="194.90" y="122" width="1" height="285" fill="#efefef"/><rect x="254.90" y="122" width="1" height="285" fill="#efefef"/><rect x="374.90" y="122" width="1" height="285" fill="#efefef"/><rect x="434.90" y="122" width="1" height="285" fill="#efefef"/><rect x="494.90" y="122" width="1" height="285" fill="#efefef"/><rect x="614.90" y="122" width="1" height="285" fill="#efefef"/><rect x="674.90" y="122" width="1" height="285" fill="#efefef"/><rect x="734.90" y="122" width="1" height="285" fill="#efefef"/><rect x="854.90" y="122" width="1" height="285" fill="#efefef"/><rect x="914.90" y="122" width="1" height="285" fill="#efefef"/><rect x="974.90" y="122" width="1" height="285" fill="#efefef"/><rect x="1094.90" y="122" width="1" height="285" fill="#efefef"/><rect x="1154.90" y="122" width="1" height="285" fill="#efefef"/><rect x="1214.90" y="122" width="1" height="285" fill="#efefef"/><rect x="1334.90" y="122" width="1" height="285" fill="#efefef"/><rect x="1394.90" y="122" width="1" height="285" fill="#efefef"/><rect x="1454.90" y="122" width="1" height="285" fill="#efefef"/><rect x="1574.90" y="122" width="1" height="285" fill="#efefef"/><rect x="1634.90" y="122" width="1" height="285" fill="#efefef"/><rect x="1694.90" y="122" width="1" height="285" fill="#efefef"/><rect x="70.00" y="122" width="78.23" height="285" fill="#fcfcfc"/><rect x="254.07" y="122" width="134.17" height="285" fill="#fcfcfc"/><rect x="494.23" y="122" width="133.83" height="285" fill="#fcfcfc"/><rect x="734.40" y="122" width="133.50" height="285" fill="#fcfcfc"/><rect x="974.57" y="122" width="133.17" height="285" fill="#fcfcfc"/><rect x="1214.73" y="122" width="133.00" height="285" fill="#fcfcfc"/><rect x="1454.90" y="122" width="132.67" height="285" fill="#fcfcfc"/><rect x="1695.07" y="122" width="160.33" height="285" fill="#fcfcfc"/><rect x="314.90" y="122" width="1.1" height="285" fill="#4f6d8a"/><rect x="554.90" y="122" width="1.1" height="285" fill="#4f6d8a"/><rect x="794.90" y="122" width="1.1" height="285" fill="#4f6d8a"/><rect x="1034.90" y="122" width="1.1" height="285" fill="#4f6d8a"/><rect x="1274.90" y="122" width="1.1" height="285" fill="#4f6d8a"/><rect x="1514.90" y="122" width="1.1" height="285" fill="#4f6d8a"/><rect x="1754.90" y="122" width="1.1" height="285" fill="#4f6d8a"/><path d="M73.6,233.2 L74.6,234.4 L75.6,235.8 L76.6,237.4 L77.6,239.2 L78.6,241.2 L79.6,243.3 L80.6,245.6 L81.6,248.1 L82.6,250.7 L83.6,253.4 L84.6,256.3 L85.6,259.3 L86.6,262.4 L87.6,265.6 L88.6,268.9 L89.6,272.3 L90.6,275.8 L91.6,279.3 L92.6,282.9 L93.6,286.5 L94.6,290.1 L95.6,293.8 L96.6,297.4 L97.6,301.1 L98.6,304.7 L99.6,308.3 L100.6,311.9 L101.6,315.4 L102.6,318.9 L103.6,322.2 L104.6,325.5 L105.6,328.7 L106.6,331.8 L107.6,334.8 L108.6,337.6 L109.6,340.3 L110.6,342.9 L111.6,345.3 L112.6,347.6 L113.6,349.7 L114.6,351.6 L115.6,353.4 L116.6,355.0 L117.6,356.3 L118.6,357.5 L119.6,358.5 L120.6,359.3 L121.6,359.9 L122.6,360.3 L123.6,360.5 L124.6,360.4 L125.6,360.0 L126.6,359.2 L127.6,358.0 L128.6,356.5 L129.6,354.5 L130.6,352.2 L131.6,349.6 L132.6,346.6 L133.6,343.3 L134.6,339.7 L135.6,335.8 L136.6,331.6 L137.6,327.1 L138.6,322.4 L139.6,317.4 L140.6,312.2 L141.6,306.9 L142.6,301.3 L143.6,295.6 L144.6,289.8 L145.6,283.9 L146.6,277.9 L147.6,271.9 L148.6,265.8 L149.6,259.7 L150.6,253.7 L151.6,247.7 L152.6,241.7 L153.6,235.8 L154.6,230.1 L155.6,224.5 L156.6,219.0 L157.6,213.8 L158.6,208.7 L159.6,203.8 L160.6,199.2 L161.6,194.9 L162.6,190.8 L163.6,187.0 L164.6,183.6 L165.6,180.4 L166.6,177.6 L167.6,175.2 L168.6,173.1 L169.6,171.3 L170.6,169.9 L171.6,168.9 L172.6,168.3 L173.6,168.1 L174.6,168.2 L175.6,168.3 L176.6,168.6 L177.6,169.1 L178.6,169.6 L179.6,170.3 L180.6,171.1 L181.6,172.1 L182.6,173.2 L183.6,174.3 L184.6,175.6 L185.6,177.1 L186.6,178.6 L187.6,180.2 L188.6,182.0 L189.6,183.9 L190.6,185.8 L191.6,187.9 L192.6,190.1 L193.6,192.3 L194.6,194.7 L195.6,197.1 L196.6,199.6 L197.6,202.2 L198.6,204.9 L199.6,207.6 L200.6,210.4 L201.6,213.3 L202.6,216.2 L203.6,219.2 L204.6,222.2 L205.6,225.3 L206.6,228.4 L207.6,231.5 L208.6,234.7 L209.6,237.9 L210.6,241.1 L211.6,244.3 L212.6,247.5 L213.6,250.7 L214.6,254.0 L215.6,257.2 L216.6,260.4 L217.6,263.6 L218.6,266.7 L219.6,269.8 L220.6,272.9 L221.6,276.0 L222.6,279.0 L223.6,282.0 L224.6,284.9 L225.6,287.7 L226.6,290.5 L227.6,293.3 L228.6,295.9 L229.6,298.5 L230.6,301.0 L231.6,303.4 L232.6,305.7 L233.6,308.0 L234.6,310.1 L235.6,312.2 L236.6,314.1 L237.6,316.0 L238.6,317.7 L239.6,319.3 L240.6,320.8 L241.6,322.2 L242.6,323.5 L243.6,324.7 L244.6,325.7 L245.6,326.6 L246.6,327.4 L247.6,328.1 L248.6,328.6 L249.6,329.0 L250.6,329.3 L251.6,329.5 L252.6,329.5 L253.6,329.2 L254.6,328.7 L255.6,327.8 L256.6,326.6 L257.6,325.1 L258.6,323.3 L259.6,321.2 L260.6,318.8 L261.6,316.2 L262.6,313.3 L263.6,310.1 L264.6,306.7 L265.6,303.2 L266.6,299.4 L267.6,295.4 L268.6,291.3 L269.6,287.0 L270.6,282.6 L271.6,278.1 L272.6,273.6 L273.6,268.9 L274.6,264.3 L275.6,259.6 L276.6,254.9 L277.6,250.2 L278.6,245.6 L279.6,241.1 L280.6,236.6 L281.6,232.3 L282.6,228.1 L283.6,224.0 L284.6,220.1 L285.6,216.4 L286.6,212.9 L287.6,209.6 L288.6,206.6 L289.6,203.8 L290.6,201.2 L291.6,199.0 L292.6,197.0 L293.6,195.3 L294.6,193.9 L295.6,192.8 L296.6,192.1 L297.6,191.6 L298.6,191.5 L299.6,191.6 L300.6,191.9 L301.6,192.3 L302.6,192.9 L303.6,193.7 L304.6,194.6 L305.6,195.7 L306.6,196.9 L307.6,198.3 L308.6,199.8 L309.6,201.5 L310.6,203.4 L311.6,205.4 L312.6,207.5 L313.6,209.8 L314.6,212.2 L315.6,214.7 L316.6,217.4 L317.6,220.2 L318.6,223.1 L319.6,226.1 L320.6,229.2 L321.6,232.4 L322.6,235.7 L323.6,239.1 L324.6,242.6 L325.6,246.2 L326.6,249.8 L327.6,253.5 L328.6,257.2 L329.6,261.0 L330.6,264.9 L331.6,268.8 L332.6,272.7 L333.6,276.6 L334.6,280.6 L335.6,284.5 L336.6,288.5 L337.6,292.4 L338.6,296.4 L339.6,300.3 L340.6,304.2 L341.6,308.1 L342.6,311.9 L343.6,315.7 L344.6,319.4 L345.6,323.1 L346.6,326.7 L347.6,330.3 L348.6,333.7 L349.6,337.1 L350.6,340.4 L351.6,343.6 L352.6,346.7 L353.6,349.7 L354.6,352.6 L355.6,355.3 L356.6,358.0 L357.6,360.5 L358.6,362.9 L359.6,365.1 L360.6,367.2 L361.6,369.2 L362.6,371.0 L363.6,372.7 L364.6,374.2 L365.6,375.6 L366.6,376.8 L367.6,377.8 L368.6,378.7 L369.6,379.4 L370.6,380.0 L371.6,380.4 L372.6,380.6 L373.6,380.7 L374.6,380.4 L375.6,379.8 L376.6,378.6 L377.6,377.1 L378.6,375.1 L379.6,372.8 L380.6,370.0 L381.6,366.9 L382.6,363.3 L383.6,359.4 L384.6,355.2 L385.6,350.6 L386.6,345.8 L387.6,340.6 L388.6,335.1 L389.6,329.4 L390.6,323.5 L391.6,317.4 L392.6,311.1 L393.6,304.6 L394.6,298.0 L395.6,291.3 L396.6,284.5 L397.6,277.7 L398.6,270.8 L399.6,264.0 L400.6,257.1 L401.6,250.4 L402.6,243.7 L403.6,237.1 L404.6,230.7 L405.6,224.4 L406.6,218.3 L407.6,212.4 L408.6,206.8 L409.6,201.4 L410.6,196.2 L411.6,191.4 L412.6,186.9 L413.6,182.8 L414.6,178.9 L415.6,175.5 L416.6,172.4 L417.6,169.7 L418.6,167.4 L419.6,165.6 L420.6,164.1 L421.6,163.1 L422.6,162.5 L423.6,162.3 L424.6,162.4 L425.6,162.6 L426.6,163.0 L427.6,163.6 L428.6,164.3 L429.6,165.1 L430.6,166.1 L431.6,167.3 L432.6,168.6 L433.6,170.0 L434.6,171.6 L435.6,173.3 L436.6,175.2 L437.6,177.2 L438.6,179.3 L439.6,181.5 L440.6,183.9 L441.6,186.4 L442.6,189.0 L443.6,191.7 L444.6,194.5 L445.6,197.4 L446.6,200.4 L447.6,203.5 L448.6,206.7 L449.6,210.0 L450.6,213.3 L451.6,216.7 L452.6,220.2 L453.6,223.8 L454.6,227.3 L455.6,231.0 L456.6,234.7 L457.6,238.4 L458.6,242.1 L459.6,245.9 L460.6,249.7 L461.6,253.5 L462.6,257.3 L463.6,261.1 L464.6,264.9 L465.6,268.7 L466.6,272.5 L467.6,276.2 L468.6,279.9 L469.6,283.6 L470.6,287.2 L471.6,290.8 L472.6,294.3 L473.6,297.8 L474.6,301.2 L475.6,304.5 L476.6,307.8 L477.6,310.9 L478.6,314.0 L479.6,317.0 L480.6,319.9 L481.6,322.7 L482.6,325.3 L483.6,327.9 L484.6,330.3 L485.6,332.7 L486.6,334.9 L487.6,336.9 L488.6,338.9 L489.6,340.7 L490.6,342.4 L491.6,343.9 L492.6,345.3 L493.6,346.6 L494.6,347.7 L495.6,348.6 L496.6,349.4 L497.6,350.1 L498.6,350.6 L499.6,351.0 L500.6,351.2 L501.6,351.2 L502.6,350.9 L503.6,350.3 L504.6,349.2 L505.6,347.8 L506.6,346.0 L507.6,343.9 L508.6,341.3 L509.6,338.5 L510.6,335.3 L511.6,331.8 L512.6,328.0 L513.6,324.0 L514.6,319.6 L515.6,315.1 L516.6,310.3 L517.6,305.3 L518.6,300.1 L519.6,294.8 L520.6,289.3 L521.6,283.8 L522.6,278.2 L523.6,272.5 L524.6,266.8 L525.6,261.1 L526.6,255.4 L527.6,249.8 L528.6,244.3 L529.6,238.9 L530.6,233.6 L531.6,228.4 L532.6,223.5 L533.6,218.7 L534.6,214.2 L535.6,209.9 L536.6,205.9 L537.6,202.2 L538.6,198.7 L539.6,195.6 L540.6,192.8 L541.6,190.4 L542.6,188.3 L543.6,186.6 L544.6,185.2 L545.6,184.3 L546.6,183.7 L547.6,183.5 L548.6,183.6 L549.6,183.9 L550.6,184.3 L551.6,185.0 L552.6,185.8 L553.6,186.8 L554.6,187.9 L555.6,189.3 L556.6,190.8 L557.6,192.5 L558.6,194.4 L559.6,196.4 L560.6,198.6 L561.6,200.9 L562.6,203.4 L563.6,206.0 L564.6,208.8 L565.6,211.7 L566.6,214.8 L567.6,218.0 L568.6,221.3 L569.6,224.7 L570.6,228.2 L571.6,231.9 L572.6,235.6 L573.6,239.4 L574.6,243.3 L575.6,247.3 L576.6,251.4 L577.6,255.5 L578.6,259.7 L579.6,264.0 L580.6,268.2 L581.6,272.6 L582.6,276.9 L583.6,281.3 L584.6,285.7 L585.6,290.0 L586.6,294.4 L587.6,298.8 L588.6,303.2 L589.6,307.5 L590.6,311.8 L591.6,316.1 L592.6,320.3 L593.6,324.4 L594.6,328.5 L595.6,332.6 L596.6,336.5 L597.6,340.4 L598.6,344.2 L599.6,347.9 L600.6,351.5 L601.6,354.9 L602.6,358.3 L603.6,361.6 L604.6,364.7 L605.6,367.7 L606.6,370.5 L607.6,373.2 L608.6,375.8 L609.6,378.2 L610.6,380.5 L611.6,382.6 L612.6,384.5 L613.6,386.3 L614.6,387.9 L615.6,389.3 L616.6,390.6 L617.6,391.7 L618.6,392.6 L619.6,393.3 L620.6,393.8 L621.6,394.2 L622.6,394.4 L623.6,394.3 L624.6,393.9 L625.6,392.9 L626.6,391.5 L627.6,389.6 L628.6,387.2 L629.6,384.4 L630.6,381.2 L631.6,377.5 L632.6,373.5 L633.6,369.0 L634.6,364.2 L635.6,359.0 L636.6,353.5 L637.6,347.6 L638.6,341.5 L639.6,335.1 L640.6,328.5 L641.6,321.6 L642.6,314.6 L643.6,307.4 L644.6,300.1 L645.6,292.7 L646.6,285.3 L647.6,277.8 L648.6,270.3 L649.6,262.8 L650.6,255.4 L651.6,248.1 L652.6,240.8 L653.6,233.8 L654.6,226.9 L655.6,220.2 L656.6,213.7 L657.6,207.5 L658.6,201.6 L659.6,195.9 L660.6,190.6 L661.6,185.7 L662.6,181.1 L663.6,176.9 L664.6,173.1 L665.6,169.8 L666.6,166.9 L667.6,164.4 L668.6,162.3 L669.6,160.8 L670.6,159.7 L671.6,159.1 L672.6,158.9 L673.6,159.0 L674.6,159.3 L675.6,159.8 L676.6,160.4 L677.6,161.2 L678.6,162.2 L679.6,163.3 L680.6,164.6 L681.6,166.1 L682.6,167.7 L683.6,169.5 L684.6,171.4 L685.6,173.5 L686.6,175.7 L687.6,178.1 L688.6,180.6 L689.6,183.3 L690.6,186.1 L691.6,189.0 L692.6,192.0 L693.6,195.2 L694.6,198.5 L695.6,201.8 L696.6,205.3 L697.6,208.9 L698.6,212.5 L699.6,216.3 L700.6,220.1 L701.6,224.0 L702.6,227.9 L703.6,231.9 L704.6,236.0 L705.6,240.1 L706.6,244.3 L707.6,248.5 L708.6,252.7 L709.6,256.9 L710.6,261.1 L711.6,265.4 L712.6,269.6 L713.6,273.8 L714.6,278.0 L715.6,282.2 L716.6,286.4 L717.6,290.5 L718.6,294.5 L719.6,298.6 L720.6,302.5 L721.6,306.4 L722.6,310.3 L723.6,314.0 L724.6,317.7 L725.6,321.2 L726.6,324.7 L727.6,328.1 L728.6,331.4 L729.6,334.6 L730.6,337.6 L731.6,340.5 L732.6,343.3 L733.6,346.0 L734.6,348.5 L735.6,350.9 L736.6,353.2 L737.6,355.3 L738.6,357.2 L739.6,359.0 L740.6,360.7 L741.6,362.1 L742.6,363.5 L743.6,364.6 L744.6,365.6 L745.6,366.4 L746.6,367.1 L747.6,367.5 L748.6,367.9 L749.6,368.0 L750.6,367.9 L751.6,367.4 L752.6,366.4 L753.6,365.1 L754.6,363.3 L755.6,361.1 L756.6,358.5 L757.6,355.6 L758.6,352.2 L759.6,348.5 L760.6,344.5 L761.6,340.2 L762.6,335.5 L763.6,330.6 L764.6,325.4 L765.6,319.9 L766.6,314.3 L767.6,308.5 L768.6,302.5 L769.6,296.4 L770.6,290.1 L771.6,283.9 L772.6,277.5 L773.6,271.2 L774.6,264.8 L775.6,258.5 L776.6,252.3 L777.6,246.1 L778.6,240.1 L779.6,234.3 L780.6,228.6 L781.6,223.1 L782.6,217.9 L783.6,212.9 L784.6,208.2 L785.6,203.7 L786.6,199.6 L787.6,195.9 L788.6,192.5 L789.6,189.4 L790.6,186.8 L791.6,184.5 L792.6,182.6 L793.6,181.2 L794.6,180.2 L795.6,179.6 L796.6,179.4 L797.6,179.5 L798.6,179.8 L799.6,180.3 L800.6,181.0 L801.6,181.9 L802.6,183.0 L803.6,184.3 L804.6,185.7 L805.6,187.4 L806.6,189.2 L807.6,191.2 L808.6,193.4 L809.6,195.7 L810.6,198.2 L811.6,200.9 L812.6,203.7 L813.6,206.7 L814.6,209.8 L815.6,213.1 L816.6,216.5 L817.6,220.1 L818.6,223.7 L819.6,227.5 L820.6,231.4 L821.6,235.4 L822.6,239.5 L823.6,243.7 L824.6,247.9 L825.6,252.3 L826.6,256.7 L827.6,261.1 L828.6,265.7 L829.6,270.2 L830.6,274.8 L831.6,279.4 L832.6,284.1 L833.6,288.8 L834.6,293.4 L835.6,298.1 L836.6,302.7 L837.6,307.3 L838.6,311.9 L839.6,316.5 L840.6,321.0 L841.6,325.5 L842.6,329.9 L843.6,334.2 L844.6,338.5 L845.6,342.6 L846.6,346.7 L847.6,350.7 L848.6,354.6 L849.6,358.3 L850.6,362.0 L851.6,365.5 L852.6,368.9 L853.6,372.2 L854.6,375.3 L855.6,378.3 L856.6,381.1 L857.6,383.7 L858.6,386.2 L859.6,388.6 L860.6,390.7 L861.6,392.7 L862.6,394.5 L863.6,396.1 L864.6,397.6 L865.6,398.8 L866.6,399.9 L867.6,400.7 L868.6,401.4 L869.6,401.9 L870.6,402.2 L871.6,402.3 L872.6,402.0 L873.6,401.3 L874.6,400.0 L875.6,398.2 L876.6,395.9 L877.6,393.2 L878.6,390.0 L879.6,386.3 L880.6,382.1 L881.6,377.6 L882.6,372.6 L883.6,367.2 L884.6,361.5 L885.6,355.4 L886.6,349.0 L887.6,342.4 L888.6,335.4 L889.6,328.3 L890.6,320.9 L891.6,313.4 L892.6,305.7 L893.6,297.9 L894.6,290.1 L895.6,282.2 L896.6,274.3 L897.6,266.4 L898.6,258.6 L899.6,250.9 L900.6,243.3 L901.6,235.9 L902.6,228.6 L903.6,221.6 L904.6,214.8 L905.6,208.3 L906.6,202.1 L907.6,196.2 L908.6,190.7 L909.6,185.6 L910.6,180.9 L911.6,176.5 L912.6,172.7 L913.6,169.3 L914.6,166.3 L915.6,163.8 L916.6,161.9 L917.6,160.4 L918.6,159.4 L919.6,158.9 L920.6,158.9 L921.6,159.1 L922.6,159.5 L923.6,160.1 L924.6,160.8 L925.6,161.7 L926.6,162.8 L927.6,164.0 L928.6,165.5 L929.6,167.1 L930.6,168.8 L931.6,170.7 L932.6,172.8 L933.6,175.1 L934.6,177.5 L935.6,180.0 L936.6,182.7 L937.6,185.5 L938.6,188.5 L939.6,191.6 L940.6,194.8 L941.6,198.1 L942.6,201.6 L943.6,205.2 L944.6,208.8 L945.6,212.6 L946.6,216.4 L947.6,220.4 L948.6,224.4 L949.6,228.5 L950.6,232.6 L951.6,236.9 L952.6,241.1 L953.6,245.4 L954.6,249.8 L955.6,254.2 L956.6,258.5 L957.6,263.0 L958.6,267.4 L959.6,271.8 L960.6,276.2 L961.6,280.6 L962.6,285.0 L963.6,289.4 L964.6,293.7 L965.6,298.0 L966.6,302.2 L967.6,306.4 L968.6,310.5 L969.6,314.5 L970.6,318.5 L971.6,322.4 L972.6,326.2 L973.6,329.9 L974.6,333.5 L975.6,336.9 L976.6,340.3 L977.6,343.6 L978.6,346.7 L979.6,349.7 L980.6,352.6 L981.6,355.3 L982.6,357.9 L983.6,360.3 L984.6,362.6 L985.6,364.7 L986.6,366.7 L987.6,368.5 L988.6,370.2 L989.6,371.7 L990.6,373.0 L991.6,374.1 L992.6,375.1 L993.6,375.8 L994.6,376.4 L995.6,376.9 L996.6,377.1 L997.6,377.2 L998.6,376.9 L999.6,376.2 L1000.6,375.0 L1001.6,373.4 L1002.6,371.4 L1003.6,368.9 L1004.6,366.0 L1005.6,362.7 L1006.6,359.1 L1007.6,355.0 L1008.6,350.6 L1009.6,345.9 L1010.6,340.8 L1011.6,335.5 L1012.6,329.9 L1013.6,324.1 L1014.6,318.0 L1015.6,311.8 L1016.6,305.4 L1017.6,298.9 L1018.6,292.2 L1019.6,285.5 L1020.6,278.8 L1021.6,272.1 L1022.6,265.3 L1023.6,258.7 L1024.6,252.1 L1025.6,245.6 L1026.6,239.2 L1027.6,233.0 L1028.6,227.1 L1029.6,221.3 L1030.6,215.8 L1031.6,210.5 L1032.6,205.6 L1033.6,200.9 L1034.6,196.6 L1035.6,192.7 L1036.6,189.1 L1037.6,186.0 L1038.6,183.2 L1039.6,180.9 L1040.6,178.9 L1041.6,177.5 L1042.6,176.4 L1043.6,175.8 L1044.6,175.7 L1045.6,175.8 L1046.6,176.2 L1047.6,176.7 L1048.6,177.4 L1049.6,178.3 L1050.6,179.4 L1051.6,180.7 L1052.6,182.2 L1053.6,183.8 L1054.6,185.6 L1055.6,187.6 L1056.6,189.8 L1057.6,192.2 L1058.6,194.7 L1059.6,197.4 L1060.6,200.2 L1061.6,203.2 L1062.6,206.3 L1063.6,209.6 L1064.6,213.0 L1065.6,216.5 L1066.6,220.2 L1067.6,224.0 L1068.6,227.9 L1069.6,231.8 L1070.6,235.9 L1071.6,240.1 L1072.6,244.4 L1073.6,248.7 L1074.6,253.1 L1075.6,257.6 L1076.6,262.1 L1077.6,266.6 L1078.6,271.2 L1079.6,275.8 L1080.6,280.5 L1081.6,285.1 L1082.6,289.8 L1083.6,294.4 L1084.6,299.1 L1085.6,303.7 L1086.6,308.3 L1087.6,312.8 L1088.6,317.3 L1089.6,321.8 L1090.6,326.2 L1091.6,330.5 L1092.6,334.8 L1093.6,339.0 L1094.6,343.1 L1095.6,347.0 L1096.6,350.9 L1097.6,354.7 L1098.6,358.4 L1099.6,361.9 L1100.6,365.3 L1101.6,368.6 L1102.6,371.7 L1103.6,374.7 L1104.6,377.5 L1105.6,380.2 L1106.6,382.7 L1107.6,385.1 L1108.6,387.3 L1109.6,389.3 L1110.6,391.1 L1111.6,392.7 L1112.6,394.2 L1113.6,395.5 L1114.6,396.6 L1115.6,397.5 L1116.6,398.2 L1117.6,398.7 L1118.6,399.1 L1119.6,399.2 L1120.6,399.0 L1121.6,398.4 L1122.6,397.2 L1123.6,395.6 L1124.6,393.4 L1125.6,390.8 L1126.6,387.7 L1127.6,384.1 L1128.6,380.1 L1129.6,375.7 L1130.6,370.8 L1131.6,365.6 L1132.6,360.0 L1133.6,354.1 L1134.6,347.8 L1135.6,341.3 L1136.6,334.5 L1137.6,327.5 L1138.6,320.3 L1139.6,312.9 L1140.6,305.4 L1141.6,297.7 L1142.6,290.0 L1143.6,282.3 L1144.6,274.6 L1145.6,266.8 L1146.6,259.2 L1147.6,251.6 L1148.6,244.1 L1149.6,236.9 L1150.6,229.8 L1151.6,222.9 L1152.6,216.2 L1153.6,209.9 L1154.6,203.8 L1155.6,198.1 L1156.6,192.7 L1157.6,187.7 L1158.6,183.1 L1159.6,179.0 L1160.6,175.2 L1161.6,171.9 L1162.6,169.1 L1163.6,166.7 L1164.6,164.9 L1165.6,163.5 L1166.6,162.7 L1167.6,162.3 L1168.6,162.4 L1169.6,162.6 L1170.6,163.0 L1171.6,163.6 L1172.6,164.4 L1173.6,165.3 L1174.6,166.4 L1175.6,167.7 L1176.6,169.1 L1177.6,170.8 L1178.6,172.6 L1179.6,174.5 L1180.6,176.6 L1181.6,178.9 L1182.6,181.3 L1183.6,183.8 L1184.6,186.5 L1185.6,189.4 L1186.6,192.4 L1187.6,195.5 L1188.6,198.7 L1189.6,202.0 L1190.6,205.5 L1191.6,209.0 L1192.6,212.7 L1193.6,216.5 L1194.6,220.3 L1195.6,224.2 L1196.6,228.2 L1197.6,232.3 L1198.6,236.4 L1199.6,240.6 L1200.6,244.8 L1201.6,249.1 L1202.6,253.4 L1203.6,257.8 L1204.6,262.1 L1205.6,266.5 L1206.6,270.8 L1207.6,275.2 L1208.6,279.6 L1209.6,283.9 L1210.6,288.2 L1211.6,292.5 L1212.6,296.7 L1213.6,300.9 L1214.6,305.1 L1215.6,309.2 L1216.6,313.2 L1217.6,317.1 L1218.6,321.0 L1219.6,324.8 L1220.6,328.4 L1221.6,332.0 L1222.6,335.5 L1223.6,338.9 L1224.6,342.1 L1225.6,345.2 L1226.6,348.2 L1227.6,351.1 L1228.6,353.8 L1229.6,356.4 L1230.6,358.9 L1231.6,361.2 L1232.6,363.3 L1233.6,365.3 L1234.6,367.1 L1235.6,368.7 L1236.6,370.2 L1237.6,371.6 L1238.6,372.7 L1239.6,373.7 L1240.6,374.5 L1241.6,375.1 L1242.6,375.5 L1243.6,375.8 L1244.6,375.9 L1245.6,375.7 L1246.6,375.0 L1247.6,374.0 L1248.6,372.4 L1249.6,370.5 L1250.6,368.2 L1251.6,365.4 L1252.6,362.3 L1253.6,358.8 L1254.6,355.0 L1255.6,350.8 L1256.6,346.2 L1257.6,341.4 L1258.6,336.3 L1259.6,330.9 L1260.6,325.3 L1261.6,319.4 L1262.6,313.4 L1263.6,307.2 L1264.6,300.9 L1265.6,294.5 L1266.6,288.0 L1267.6,281.4 L1268.6,274.8 L1269.6,268.2 L1270.6,261.7 L1271.6,255.2 L1272.6,248.8 L1273.6,242.5 L1274.6,236.4 L1275.6,230.4 L1276.6,224.6 L1277.6,219.1 L1278.6,213.8 L1279.6,208.7 L1280.6,204.0 L1281.6,199.5 L1282.6,195.4 L1283.6,191.7 L1284.6,188.3 L1285.6,185.3 L1286.6,182.7 L1287.6,180.5 L1288.6,178.7 L1289.6,177.3 L1290.6,176.3 L1291.6,175.8 L1292.6,175.7 L1293.6,175.9 L1294.6,176.2 L1295.6,176.7 L1296.6,177.4 L1297.6,178.3 L1298.6,179.3 L1299.6,180.5 L1300.6,181.9 L1301.6,183.5 L1302.6,185.3 L1303.6,187.2 L1304.6,189.3 L1305.6,191.5 L1306.6,193.9 L1307.6,196.4 L1308.6,199.1 L1309.6,201.9 L1310.6,204.9 L1311.6,208.0 L1312.6,211.2 L1313.6,214.6 L1314.6,218.0 L1315.6,221.6 L1316.6,225.3 L1317.6,229.1 L1318.6,232.9 L1319.6,236.9 L1320.6,240.9 L1321.6,245.0 L1322.6,249.1 L1323.6,253.3 L1324.6,257.6 L1325.6,261.9 L1326.6,266.2 L1327.6,270.6 L1328.6,274.9 L1329.6,279.3 L1330.6,283.7 L1331.6,288.1 L1332.6,292.4 L1333.6,296.8 L1334.6,301.1 L1335.6,305.3 L1336.6,309.6 L1337.6,313.8 L1338.6,317.9 L1339.6,321.9 L1340.6,325.9 L1341.6,329.8 L1342.6,333.6 L1343.6,337.4 L1344.6,341.0 L1345.6,344.5 L1346.6,347.9 L1347.6,351.2 L1348.6,354.4 L1349.6,357.4 L1350.6,360.3 L1351.6,363.1 L1352.6,365.7 L1353.6,368.1 L1354.6,370.4 L1355.6,372.6 L1356.6,374.6 L1357.6,376.4 L1358.6,378.1 L1359.6,379.6 L1360.6,380.9 L1361.6,382.0 L1362.6,383.0 L1363.6,383.8 L1364.6,384.4 L1365.6,384.8 L1366.6,385.0 L1367.6,385.1 L1368.6,384.8 L1369.6,383.9 L1370.6,382.7 L1371.6,380.9 L1372.6,378.7 L1373.6,376.0 L1374.6,372.9 L1375.6,369.4 L1376.6,365.5 L1377.6,361.1 L1378.6,356.4 L1379.6,351.4 L1380.6,346.0 L1381.6,340.3 L1382.6,334.3 L1383.6,328.1 L1384.6,321.7 L1385.6,315.0 L1386.6,308.2 L1387.6,301.2 L1388.6,294.2 L1389.6,287.0 L1390.6,279.8 L1391.6,272.6 L1392.6,265.4 L1393.6,258.3 L1394.6,251.3 L1395.6,244.3 L1396.6,237.5 L1397.6,230.9 L1398.6,224.4 L1399.6,218.2 L1400.6,212.3 L1401.6,206.6 L1402.6,201.3 L1403.6,196.3 L1404.6,191.6 L1405.6,187.3 L1406.6,183.4 L1407.6,179.9 L1408.6,176.9 L1409.6,174.3 L1410.6,172.1 L1411.6,170.4 L1412.6,169.2 L1413.6,168.4 L1414.6,168.1 L1415.6,168.2 L1416.6,168.4 L1417.6,168.8 L1418.6,169.4 L1419.6,170.1 L1420.6,171.0 L1421.6,172.0 L1422.6,173.2 L1423.6,174.6 L1424.6,176.1 L1425.6,177.8 L1426.6,179.6 L1427.6,181.6 L1428.6,183.7 L1429.6,186.0 L1430.6,188.4 L1431.6,190.9 L1432.6,193.5 L1433.6,196.3 L1434.6,199.2 L1435.6,202.2 L1436.6,205.3 L1437.6,208.6 L1438.6,211.9 L1439.6,215.3 L1440.6,218.8 L1441.6,222.4 L1442.6,226.0 L1443.6,229.7 L1444.6,233.5 L1445.6,237.4 L1446.6,241.3 L1447.6,245.2 L1448.6,249.2 L1449.6,253.2 L1450.6,257.2 L1451.6,261.3 L1452.6,265.3 L1453.6,269.4 L1454.6,273.4 L1455.6,277.5 L1456.6,281.5 L1457.6,285.5 L1458.6,289.5 L1459.6,293.4 L1460.6,297.3 L1461.6,301.2 L1462.6,305.0 L1463.6,308.7 L1464.6,312.3 L1465.6,315.9 L1466.6,319.4 L1467.6,322.8 L1468.6,326.1 L1469.6,329.4 L1470.6,332.5 L1471.6,335.5 L1472.6,338.4 L1473.6,341.2 L1474.6,343.8 L1475.6,346.3 L1476.6,348.7 L1477.6,351.0 L1478.6,353.1 L1479.6,355.1 L1480.6,356.9 L1481.6,358.6 L1482.6,360.1 L1483.6,361.5 L1484.6,362.7 L1485.6,363.7 L1486.6,364.6 L1487.6,365.3 L1488.6,365.9 L1489.6,366.3 L1490.6,366.5 L1491.6,366.6 L1492.6,366.4 L1493.6,365.7 L1494.6,364.7 L1495.6,363.3 L1496.6,361.6 L1497.6,359.4 L1498.6,356.9 L1499.6,354.0 L1500.6,350.8 L1501.6,347.3 L1502.6,343.5 L1503.6,339.4 L1504.6,334.9 L1505.6,330.3 L1506.6,325.4 L1507.6,320.2 L1508.6,314.9 L1509.6,309.4 L1510.6,303.8 L1511.6,298.0 L1512.6,292.1 L1513.6,286.1 L1514.6,280.1 L1515.6,274.1 L1516.6,268.0 L1517.6,262.0 L1518.6,256.0 L1519.6,250.1 L1520.6,244.2 L1521.6,238.5 L1522.6,233.0 L1523.6,227.6 L1524.6,222.4 L1525.6,217.4 L1526.6,212.6 L1527.6,208.1 L1528.6,203.8 L1529.6,199.9 L1530.6,196.2 L1531.6,192.9 L1532.6,189.9 L1533.6,187.3 L1534.6,185.0 L1535.6,183.0 L1536.6,181.5 L1537.6,180.3 L1538.6,179.5 L1539.6,179.1 L1540.6,179.1 L1541.6,179.3 L1542.6,179.6 L1543.6,180.1 L1544.6,180.7 L1545.6,181.5 L1546.6,182.5 L1547.6,183.6 L1548.6,184.9 L1549.6,186.3 L1550.6,187.9 L1551.6,189.6 L1552.6,191.4 L1553.6,193.4 L1554.6,195.6 L1555.6,197.8 L1556.6,200.2 L1557.6,202.7 L1558.6,205.4 L1559.6,208.1 L1560.6,211.0 L1561.6,214.0 L1562.6,217.0 L1563.6,220.2 L1564.6,223.4 L1565.6,226.8 L1566.6,230.2 L1567.6,233.7 L1568.6,237.2 L1569.6,240.8 L1570.6,244.5 L1571.6,248.2 L1572.6,251.9 L1573.6,255.7 L1574.6,259.5 L1575.6,263.4 L1576.6,267.2 L1577.6,271.0 L1578.6,274.9 L1579.6,278.7 L1580.6,282.5 L1581.6,286.3 L1582.6,290.1 L1583.6,293.8 L1584.6,297.5 L1585.6,301.2 L1586.6,304.8 L1587.6,308.3 L1588.6,311.8 L1589.6,315.2 L1590.6,318.5 L1591.6,321.8 L1592.6,324.9 L1593.6,327.9 L1594.6,330.9 L1595.6,333.7 L1596.6,336.5 L1597.6,339.1 L1598.6,341.6 L1599.6,343.9 L1600.6,346.2 L1601.6,348.3 L1602.6,350.3 L1603.6,352.1 L1604.6,353.8 L1605.6,355.3 L1606.6,356.7 L1607.6,357.9 L1608.6,359.0 L1609.6,359.9 L1610.6,360.7 L1611.6,361.3 L1612.6,361.8 L1613.6,362.1 L1614.6,362.2 L1615.6,362.1 L1616.6,361.6 L1617.6,360.7 L1618.6,359.4 L1619.6,357.7 L1620.6,355.6 L1621.6,353.2 L1622.6,350.4 L1623.6,347.2 L1624.6,343.6 L1625.6,339.8 L1626.6,335.6 L1627.6,331.2 L1628.6,326.4 L1629.6,321.5 L1630.6,316.3 L1631.6,310.8 L1632.6,305.2 L1633.6,299.5 L1634.6,293.6 L1635.6,287.6 L1636.6,281.6 L1637.6,275.4 L1638.6,269.3 L1639.6,263.1 L1640.6,257.0 L1641.6,251.0 L1642.6,245.0 L1643.6,239.1 L1644.6,233.4 L1645.6,227.8 L1646.6,222.4 L1647.6,217.2 L1648.6,212.3 L1649.6,207.6 L1650.6,203.2 L1651.6,199.0 L1652.6,195.2 L1653.6,191.7 L1654.6,188.5 L1655.6,185.8 L1656.6,183.3 L1657.6,181.3 L1658.6,179.6 L1659.6,178.4 L1660.6,177.5 L1661.6,177.1 L1662.6,177.0 L1663.6,177.1 L1664.6,177.4 L1665.6,177.9 L1666.6,178.4 L1667.6,179.2 L1668.6,180.0 L1669.6,181.1 L1670.6,182.2 L1671.6,183.5 L1672.6,185.0 L1673.6,186.5 L1674.6,188.2 L1675.6,190.1 L1676.6,192.0 L1677.6,194.1 L1678.6,196.3 L1679.6,198.6 L1680.6,201.1 L1681.6,203.6 L1682.6,206.3 L1683.6,209.0 L1684.6,211.8 L1685.6,214.8 L1686.6,217.8 L1687.6,220.9 L1688.6,224.0 L1689.6,227.2 L1690.6,230.5 L1691.6,233.9 L1692.6,237.3 L1693.6,240.7 L1694.6,244.2 L1695.6,247.7 L1696.6,251.3 L1697.6,254.8 L1698.6,258.4 L1699.6,262.0 L1700.6,265.6 L1701.6,269.1 L1702.6,272.7 L1703.6,276.3 L1704.6,279.8 L1705.6,283.3 L1706.6,286.8 L1707.6,290.2 L1708.6,293.6 L1709.6,296.9 L1710.6,300.2 L1711.6,303.4 L1712.6,306.5 L1713.6,309.5 L1714.6,312.5 L1715.6,315.4 L1716.6,318.2 L1717.6,320.9 L1718.6,323.5 L1719.6,326.0 L1720.6,328.4 L1721.6,330.7 L1722.6,332.8 L1723.6,334.9 L1724.6,336.8 L1725.6,338.6 L1726.6,340.2 L1727.6,341.7 L1728.6,343.1 L1729.6,344.4 L1730.6,345.5 L1731.6,346.4 L1732.6,347.2 L1733.6,347.9 L1734.6,348.4 L1735.6,348.8 L1736.6,349.0 L1737.6,349.1 L1738.6,349.0 L1739.6,348.7 L1740.6,348.2 L1741.6,347.5 L1742.6,346.6 L1743.6,345.5 L1744.6,344.2 L1745.6,342.7 L1746.6,341.1 L1747.6,339.2 L1748.6,337.2 L1749.6,335.0 L1750.6,332.7 L1751.6,330.1 L1752.6,327.5 L1753.6,324.6 L1754.6,321.7 L1755.6,318.5 L1756.6,315.3 L1757.6,312.0 L1758.6,308.5 L1759.6,304.9 L1759.6,406 L73.6,406 Z" fill="url(#fg)" fill-opacity="0.92"/><path d="M73.6,233.2 L74.6,234.4 L75.6,235.8 L76.6,237.4 L77.6,239.2 L78.6,241.2 L79.6,243.3 L80.6,245.6 L81.6,248.1 L82.6,250.7 L83.6,253.4 L84.6,256.3 L85.6,259.3 L86.6,262.4 L87.6,265.6 L88.6,268.9 L89.6,272.3 L90.6,275.8 L91.6,279.3 L92.6,282.9 L93.6,286.5 L94.6,290.1 L95.6,293.8 L96.6,297.4 L97.6,301.1 L98.6,304.7 L99.6,308.3 L100.6,311.9 L101.6,315.4 L102.6,318.9 L103.6,322.2 L104.6,325.5 L105.6,328.7 L106.6,331.8 L107.6,334.8 L108.6,337.6 L109.6,340.3 L110.6,342.9 L111.6,345.3 L112.6,347.6 L113.6,349.7 L114.6,351.6 L115.6,353.4 L116.6,355.0 L117.6,356.3 L118.6,357.5 L119.6,358.5 L120.6,359.3 L121.6,359.9 L122.6,360.3 L123.6,360.5 L124.6,360.4 L125.6,360.0 L126.6,359.2 L127.6,358.0 L128.6,356.5 L129.6,354.5 L130.6,352.2 L131.6,349.6 L132.6,346.6 L133.6,343.3 L134.6,339.7 L135.6,335.8 L136.6,331.6 L137.6,327.1 L138.6,322.4 L139.6,317.4 L140.6,312.2 L141.6,306.9 L142.6,301.3 L143.6,295.6 L144.6,289.8 L145.6,283.9 L146.6,277.9 L147.6,271.9 L148.6,265.8 L149.6,259.7 L150.6,253.7 L151.6,247.7 L152.6,241.7 L153.6,235.8 L154.6,230.1 L155.6,224.5 L156.6,219.0 L157.6,213.8 L158.6,208.7 L159.6,203.8 L160.6,199.2 L161.6,194.9 L162.6,190.8 L163.6,187.0 L164.6,183.6 L165.6,180.4 L166.6,177.6 L167.6,175.2 L168.6,173.1 L169.6,171.3 L170.6,169.9 L171.6,168.9 L172.6,168.3 L173.6,168.1 L174.6,168.2 L175.6,168.3 L176.6,168.6 L177.6,169.1 L178.6,169.6 L179.6,170.3 L180.6,171.1 L181.6,172.1 L182.6,173.2 L183.6,174.3 L184.6,175.6 L185.6,177.1 L186.6,178.6 L187.6,180.2 L188.6,182.0 L189.6,183.9 L190.6,185.8 L191.6,187.9 L192.6,190.1 L193.6,192.3 L194.6,194.7 L195.6,197.1 L196.6,199.6 L197.6,202.2 L198.6,204.9 L199.6,207.6 L200.6,210.4 L201.6,213.3 L202.6,216.2 L203.6,219.2 L204.6,222.2 L205.6,225.3 L206.6,228.4 L207.6,231.5 L208.6,234.7 L209.6,237.9 L210.6,241.1 L211.6,244.3 L212.6,247.5 L213.6,250.7 L214.6,254.0 L215.6,257.2 L216.6,260.4 L217.6,263.6 L218.6,266.7 L219.6,269.8 L220.6,272.9 L221.6,276.0 L222.6,279.0 L223.6,282.0 L224.6,284.9 L225.6,287.7 L226.6,290.5 L227.6,293.3 L228.6,295.9 L229.6,298.5 L230.6,301.0 L231.6,303.4 L232.6,305.7 L233.6,308.0 L234.6,310.1 L235.6,312.2 L236.6,314.1 L237.6,316.0 L238.6,317.7 L239.6,319.3 L240.6,320.8 L241.6,322.2 L242.6,323.5 L243.6,324.7 L244.6,325.7 L245.6,326.6 L246.6,327.4 L247.6,328.1 L248.6,328.6 L249.6,329.0 L250.6,329.3 L251.6,329.5 L252.6,329.5 L253.6,329.2 L254.6,328.7 L255.6,327.8 L256.6,326.6 L257.6,325.1 L258.6,323.3 L259.6,321.2 L260.6,318.8 L261.6,316.2 L262.6,313.3 L263.6,310.1 L264.6,306.7 L265.6,303.2 L266.6,299.4 L267.6,295.4 L268.6,291.3 L269.6,287.0 L270.6,282.6 L271.6,278.1 L272.6,273.6 L273.6,268.9 L274.6,264.3 L275.6,259.6 L276.6,254.9 L277.6,250.2 L278.6,245.6 L279.6,241.1 L280.6,236.6 L281.6,232.3 L282.6,228.1 L283.6,224.0 L284.6,220.1 L285.6,216.4 L286.6,212.9 L287.6,209.6 L288.6,206.6 L289.6,203.8 L290.6,201.2 L291.6,199.0 L292.6,197.0 L293.6,195.3 L294.6,193.9 L295.6,192.8 L296.6,192.1 L297.6,191.6 L298.6,191.5 L299.6,191.6 L300.6,191.9 L301.6,192.3 L302.6,192.9 L303.6,193.7 L304.6,194.6 L305.6,195.7 L306.6,196.9 L307.6,198.3 L308.6,199.8 L309.6,201.5 L310.6,203.4 L311.6,205.4 L312.6,207.5 L313.6,209.8 L314.6,212.2 L315.6,214.7 L316.6,217.4 L317.6,220.2 L318.6,223.1 L319.6,226.1 L320.6,229.2 L321.6,232.4 L322.6,235.7 L323.6,239.1 L324.6,242.6 L325.6,246.2 L326.6,249.8 L327.6,253.5 L328.6,257.2 L329.6,261.0 L330.6,264.9 L331.6,268.8 L332.6,272.7 L333.6,276.6 L334.6,280.6 L335.6,284.5 L336.6,288.5 L337.6,292.4 L338.6,296.4 L339.6,300.3 L340.6,304.2 L341.6,308.1 L342.6,311.9 L343.6,315.7 L344.6,319.4 L345.6,323.1 L346.6,326.7 L347.6,330.3 L348.6,333.7 L349.6,337.1 L350.6,340.4 L351.6,343.6 L352.6,346.7 L353.6,349.7 L354.6,352.6 L355.6,355.3 L356.6,358.0 L357.6,360.5 L358.6,362.9 L359.6,365.1 L360.6,367.2 L361.6,369.2 L362.6,371.0 L363.6,372.7 L364.6,374.2 L365.6,375.6 L366.6,376.8 L367.6,377.8 L368.6,378.7 L369.6,379.4 L370.6,380.0 L371.6,380.4 L372.6,380.6 L373.6,380.7 L374.6,380.4 L375.6,379.8 L376.6,378.6 L377.6,377.1 L378.6,375.1 L379.6,372.8 L380.6,370.0 L381.6,366.9 L382.6,363.3 L383.6,359.4 L384.6,355.2 L385.6,350.6 L386.6,345.8 L387.6,340.6 L388.6,335.1 L389.6,329.4 L390.6,323.5 L391.6,317.4 L392.6,311.1 L393.6,304.6 L394.6,298.0 L395.6,291.3 L396.6,284.5 L397.6,277.7 L398.6,270.8 L399.6,264.0 L400.6,257.1 L401.6,250.4 L402.6,243.7 L403.6,237.1 L404.6,230.7 L405.6,224.4 L406.6,218.3 L407.6,212.4 L408.6,206.8 L409.6,201.4 L410.6,196.2 L411.6,191.4 L412.6,186.9 L413.6,182.8 L414.6,178.9 L415.6,175.5 L416.6,172.4 L417.6,169.7 L418.6,167.4 L419.6,165.6 L420.6,164.1 L421.6,163.1 L422.6,162.5 L423.6,162.3 L424.6,162.4 L425.6,162.6 L426.6,163.0 L427.6,163.6 L428.6,164.3 L429.6,165.1 L430.6,166.1 L431.6,167.3 L432.6,168.6 L433.6,170.0 L434.6,171.6 L435.6,173.3 L436.6,175.2 L437.6,177.2 L438.6,179.3 L439.6,181.5 L440.6,183.9 L441.6,186.4 L442.6,189.0 L443.6,191.7 L444.6,194.5 L445.6,197.4 L446.6,200.4 L447.6,203.5 L448.6,206.7 L449.6,210.0 L450.6,213.3 L451.6,216.7 L452.6,220.2 L453.6,223.8 L454.6,227.3 L455.6,231.0 L456.6,234.7 L457.6,238.4 L458.6,242.1 L459.6,245.9 L460.6,249.7 L461.6,253.5 L462.6,257.3 L463.6,261.1 L464.6,264.9 L465.6,268.7 L466.6,272.5 L467.6,276.2 L468.6,279.9 L469.6,283.6 L470.6,287.2 L471.6,290.8 L472.6,294.3 L473.6,297.8 L474.6,301.2 L475.6,304.5 L476.6,307.8 L477.6,310.9 L478.6,314.0 L479.6,317.0 L480.6,319.9 L481.6,322.7 L482.6,325.3 L483.6,327.9 L484.6,330.3 L485.6,332.7 L486.6,334.9 L487.6,336.9 L488.6,338.9 L489.6,340.7 L490.6,342.4 L491.6,343.9 L492.6,345.3 L493.6,346.6 L494.6,347.7 L495.6,348.6 L496.6,349.4 L497.6,350.1 L498.6,350.6 L499.6,351.0 L500.6,351.2 L501.6,351.2 L502.6,350.9 L503.6,350.3 L504.6,349.2 L505.6,347.8 L506.6,346.0 L507.6,343.9 L508.6,341.3 L509.6,338.5 L510.6,335.3 L511.6,331.8 L512.6,328.0 L513.6,324.0 L514.6,319.6 L515.6,315.1 L516.6,310.3 L517.6,305.3 L518.6,300.1 L519.6,294.8 L520.6,289.3 L521.6,283.8 L522.6,278.2 L523.6,272.5 L524.6,266.8 L525.6,261.1 L526.6,255.4 L527.6,249.8 L528.6,244.3 L529.6,238.9 L530.6,233.6 L531.6,228.4 L532.6,223.5 L533.6,218.7 L534.6,214.2 L535.6,209.9 L536.6,205.9 L537.6,202.2 L538.6,198.7 L539.6,195.6 L540.6,192.8 L541.6,190.4 L542.6,188.3 L543.6,186.6 L544.6,185.2 L545.6,184.3 L546.6,183.7 L547.6,183.5 L548.6,183.6 L549.6,183.9 L550.6,184.3 L551.6,185.0 L552.6,185.8 L553.6,186.8 L554.6,187.9 L555.6,189.3 L556.6,190.8 L557.6,192.5 L558.6,194.4 L559.6,196.4 L560.6,198.6 L561.6,200.9 L562.6,203.4 L563.6,206.0 L564.6,208.8 L565.6,211.7 L566.6,214.8 L567.6,218.0 L568.6,221.3 L569.6,224.7 L570.6,228.2 L571.6,231.9 L572.6,235.6 L573.6,239.4 L574.6,243.3 L575.6,247.3 L576.6,251.4 L577.6,255.5 L578.6,259.7 L579.6,264.0 L580.6,268.2 L581.6,272.6 L582.6,276.9 L583.6,281.3 L584.6,285.7 L585.6,290.0 L586.6,294.4 L587.6,298.8 L588.6,303.2 L589.6,307.5 L590.6,311.8 L591.6,316.1 L592.6,320.3 L593.6,324.4 L594.6,328.5 L595.6,332.6 L596.6,336.5 L597.6,340.4 L598.6,344.2 L599.6,347.9 L600.6,351.5 L601.6,354.9 L602.6,358.3 L603.6,361.6 L604.6,364.7 L605.6,367.7 L606.6,370.5 L607.6,373.2 L608.6,375.8 L609.6,378.2 L610.6,380.5 L611.6,382.6 L612.6,384.5 L613.6,386.3 L614.6,387.9 L615.6,389.3 L616.6,390.6 L617.6,391.7 L618.6,392.6 L619.6,393.3 L620.6,393.8 L621.6,394.2 L622.6,394.4 L623.6,394.3 L624.6,393.9 L625.6,392.9 L626.6,391.5 L627.6,389.6 L628.6,387.2 L629.6,384.4 L630.6,381.2 L631.6,377.5 L632.6,373.5 L633.6,369.0 L634.6,364.2 L635.6,359.0 L636.6,353.5 L637.6,347.6 L638.6,341.5 L639.6,335.1 L640.6,328.5 L641.6,321.6 L642.6,314.6 L643.6,307.4 L644.6,300.1 L645.6,292.7 L646.6,285.3 L647.6,277.8 L648.6,270.3 L649.6,262.8 L650.6,255.4 L651.6,248.1 L652.6,240.8 L653.6,233.8 L654.6,226.9 L655.6,220.2 L656.6,213.7 L657.6,207.5 L658.6,201.6 L659.6,195.9 L660.6,190.6 L661.6,185.7 L662.6,181.1 L663.6,176.9 L664.6,173.1 L665.6,169.8 L666.6,166.9 L667.6,164.4 L668.6,162.3 L669.6,160.8 L670.6,159.7 L671.6,159.1 L672.6,158.9 L673.6,159.0 L674.6,159.3 L675.6,159.8 L676.6,160.4 L677.6,161.2 L678.6,162.2 L679.6,163.3 L680.6,164.6 L681.6,166.1 L682.6,167.7 L683.6,169.5 L684.6,171.4 L685.6,173.5 L686.6,175.7 L687.6,178.1 L688.6,180.6 L689.6,183.3 L690.6,186.1 L691.6,189.0 L692.6,192.0 L693.6,195.2 L694.6,198.5 L695.6,201.8 L696.6,205.3 L697.6,208.9 L698.6,212.5 L699.6,216.3 L700.6,220.1 L701.6,224.0 L702.6,227.9 L703.6,231.9 L704.6,236.0 L705.6,240.1 L706.6,244.3 L707.6,248.5 L708.6,252.7 L709.6,256.9 L710.6,261.1 L711.6,265.4 L712.6,269.6 L713.6,273.8 L714.6,278.0 L715.6,282.2 L716.6,286.4 L717.6,290.5 L718.6,294.5 L719.6,298.6 L720.6,302.5 L721.6,306.4 L722.6,310.3 L723.6,314.0 L724.6,317.7 L725.6,321.2 L726.6,324.7 L727.6,328.1 L728.6,331.4 L729.6,334.6 L730.6,337.6 L731.6,340.5 L732.6,343.3 L733.6,346.0 L734.6,348.5 L735.6,350.9 L736.6,353.2 L737.6,355.3 L738.6,357.2 L739.6,359.0 L740.6,360.7 L741.6,362.1 L742.6,363.5 L743.6,364.6 L744.6,365.6 L745.6,366.4 L746.6,367.1 L747.6,367.5 L748.6,367.9 L749.6,368.0 L750.6,367.9 L751.6,367.4 L752.6,366.4 L753.6,365.1 L754.6,363.3 L755.6,361.1 L756.6,358.5 L757.6,355.6 L758.6,352.2 L759.6,348.5 L760.6,344.5 L761.6,340.2 L762.6,335.5 L763.6,330.6 L764.6,325.4 L765.6,319.9 L766.6,314.3 L767.6,308.5 L768.6,302.5 L769.6,296.4 L770.6,290.1 L771.6,283.9 L772.6,277.5 L773.6,271.2 L774.6,264.8 L775.6,258.5 L776.6,252.3 L777.6,246.1 L778.6,240.1 L779.6,234.3 L780.6,228.6 L781.6,223.1 L782.6,217.9 L783.6,212.9 L784.6,208.2 L785.6,203.7 L786.6,199.6 L787.6,195.9 L788.6,192.5 L789.6,189.4 L790.6,186.8 L791.6,184.5 L792.6,182.6 L793.6,181.2 L794.6,180.2 L795.6,179.6 L796.6,179.4 L797.6,179.5 L798.6,179.8 L799.6,180.3 L800.6,181.0 L801.6,181.9 L802.6,183.0 L803.6,184.3 L804.6,185.7 L805.6,187.4 L806.6,189.2 L807.6,191.2 L808.6,193.4 L809.6,195.7 L810.6,198.2 L811.6,200.9 L812.6,203.7 L813.6,206.7 L814.6,209.8 L815.6,213.1 L816.6,216.5 L817.6,220.1 L818.6,223.7 L819.6,227.5 L820.6,231.4 L821.6,235.4 L822.6,239.5 L823.6,243.7 L824.6,247.9 L825.6,252.3 L826.6,256.7 L827.6,261.1 L828.6,265.7 L829.6,270.2 L830.6,274.8 L831.6,279.4 L832.6,284.1 L833.6,288.8 L834.6,293.4 L835.6,298.1 L836.6,302.7 L837.6,307.3 L838.6,311.9 L839.6,316.5 L840.6,321.0 L841.6,325.5 L842.6,329.9 L843.6,334.2 L844.6,338.5 L845.6,342.6 L846.6,346.7 L847.6,350.7 L848.6,354.6 L849.6,358.3 L850.6,362.0 L851.6,365.5 L852.6,368.9 L853.6,372.2 L854.6,375.3 L855.6,378.3 L856.6,381.1 L857.6,383.7 L858.6,386.2 L859.6,388.6 L860.6,390.7 L861.6,392.7 L862.6,394.5 L863.6,396.1 L864.6,397.6 L865.6,398.8 L866.6,399.9 L867.6,400.7 L868.6,401.4 L869.6,401.9 L870.6,402.2 L871.6,402.3 L872.6,402.0 L873.6,401.3 L874.6,400.0 L875.6,398.2 L876.6,395.9 L877.6,393.2 L878.6,390.0 L879.6,386.3 L880.6,382.1 L881.6,377.6 L882.6,372.6 L883.6,367.2 L884.6,361.5 L885.6,355.4 L886.6,349.0 L887.6,342.4 L888.6,335.4 L889.6,328.3 L890.6,320.9 L891.6,313.4 L892.6,305.7 L893.6,297.9 L894.6,290.1 L895.6,282.2 L896.6,274.3 L897.6,266.4 L898.6,258.6 L899.6,250.9 L900.6,243.3 L901.6,235.9 L902.6,228.6 L903.6,221.6 L904.6,214.8 L905.6,208.3 L906.6,202.1 L907.6,196.2 L908.6,190.7 L909.6,185.6 L910.6,180.9 L911.6,176.5 L912.6,172.7 L913.6,169.3 L914.6,166.3 L915.6,163.8 L916.6,161.9 L917.6,160.4 L918.6,159.4 L919.6,158.9 L920.6,158.9 L921.6,159.1 L922.6,159.5 L923.6,160.1 L924.6,160.8 L925.6,161.7 L926.6,162.8 L927.6,164.0 L928.6,165.5 L929.6,167.1 L930.6,168.8 L931.6,170.7 L932.6,172.8 L933.6,175.1 L934.6,177.5 L935.6,180.0 L936.6,182.7 L937.6,185.5 L938.6,188.5 L939.6,191.6 L940.6,194.8 L941.6,198.1 L942.6,201.6 L943.6,205.2 L944.6,208.8 L945.6,212.6 L946.6,216.4 L947.6,220.4 L948.6,224.4 L949.6,228.5 L950.6,232.6 L951.6,236.9 L952.6,241.1 L953.6,245.4 L954.6,249.8 L955.6,254.2 L956.6,258.5 L957.6,263.0 L958.6,267.4 L959.6,271.8 L960.6,276.2 L961.6,280.6 L962.6,285.0 L963.6,289.4 L964.6,293.7 L965.6,298.0 L966.6,302.2 L967.6,306.4 L968.6,310.5 L969.6,314.5 L970.6,318.5 L971.6,322.4 L972.6,326.2 L973.6,329.9 L974.6,333.5 L975.6,336.9 L976.6,340.3 L977.6,343.6 L978.6,346.7 L979.6,349.7 L980.6,352.6 L981.6,355.3 L982.6,357.9 L983.6,360.3 L984.6,362.6 L985.6,364.7 L986.6,366.7 L987.6,368.5 L988.6,370.2 L989.6,371.7 L990.6,373.0 L991.6,374.1 L992.6,375.1 L993.6,375.8 L994.6,376.4 L995.6,376.9 L996.6,377.1 L997.6,377.2 L998.6,376.9 L999.6,376.2 L1000.6,375.0 L1001.6,373.4 L1002.6,371.4 L1003.6,368.9 L1004.6,366.0 L1005.6,362.7 L1006.6,359.1 L1007.6,355.0 L1008.6,350.6 L1009.6,345.9 L1010.6,340.8 L1011.6,335.5 L1012.6,329.9 L1013.6,324.1 L1014.6,318.0 L1015.6,311.8 L1016.6,305.4 L1017.6,298.9 L1018.6,292.2 L1019.6,285.5 L1020.6,278.8 L1021.6,272.1 L1022.6,265.3 L1023.6,258.7 L1024.6,252.1 L1025.6,245.6 L1026.6,239.2 L1027.6,233.0 L1028.6,227.1 L1029.6,221.3 L1030.6,215.8 L1031.6,210.5 L1032.6,205.6 L1033.6,200.9 L1034.6,196.6 L1035.6,192.7 L1036.6,189.1 L1037.6,186.0 L1038.6,183.2 L1039.6,180.9 L1040.6,178.9 L1041.6,177.5 L1042.6,176.4 L1043.6,175.8 L1044.6,175.7 L1045.6,175.8 L1046.6,176.2 L1047.6,176.7 L1048.6,177.4 L1049.6,178.3 L1050.6,179.4 L1051.6,180.7 L1052.6,182.2 L1053.6,183.8 L1054.6,185.6 L1055.6,187.6 L1056.6,189.8 L1057.6,192.2 L1058.6,194.7 L1059.6,197.4 L1060.6,200.2 L1061.6,203.2 L1062.6,206.3 L1063.6,209.6 L1064.6,213.0 L1065.6,216.5 L1066.6,220.2 L1067.6,224.0 L1068.6,227.9 L1069.6,231.8 L1070.6,235.9 L1071.6,240.1 L1072.6,244.4 L1073.6,248.7 L1074.6,253.1 L1075.6,257.6 L1076.6,262.1 L1077.6,266.6 L1078.6,271.2 L1079.6,275.8 L1080.6,280.5 L1081.6,285.1 L1082.6,289.8 L1083.6,294.4 L1084.6,299.1 L1085.6,303.7 L1086.6,308.3 L1087.6,312.8 L1088.6,317.3 L1089.6,321.8 L1090.6,326.2 L1091.6,330.5 L1092.6,334.8 L1093.6,339.0 L1094.6,343.1 L1095.6,347.0 L1096.6,350.9 L1097.6,354.7 L1098.6,358.4 L1099.6,361.9 L1100.6,365.3 L1101.6,368.6 L1102.6,371.7 L1103.6,374.7 L1104.6,377.5 L1105.6,380.2 L1106.6,382.7 L1107.6,385.1 L1108.6,387.3 L1109.6,389.3 L1110.6,391.1 L1111.6,392.7 L1112.6,394.2 L1113.6,395.5 L1114.6,396.6 L1115.6,397.5 L1116.6,398.2 L1117.6,398.7 L1118.6,399.1 L1119.6,399.2 L1120.6,399.0 L1121.6,398.4 L1122.6,397.2 L1123.6,395.6 L1124.6,393.4 L1125.6,390.8 L1126.6,387.7 L1127.6,384.1 L1128.6,380.1 L1129.6,375.7 L1130.6,370.8 L1131.6,365.6 L1132.6,360.0 L1133.6,354.1 L1134.6,347.8 L1135.6,341.3 L1136.6,334.5 L1137.6,327.5 L1138.6,320.3 L1139.6,312.9 L1140.6,305.4 L1141.6,297.7 L1142.6,290.0 L1143.6,282.3 L1144.6,274.6 L1145.6,266.8 L1146.6,259.2 L1147.6,251.6 L1148.6,244.1 L1149.6,236.9 L1150.6,229.8 L1151.6,222.9 L1152.6,216.2 L1153.6,209.9 L1154.6,203.8 L1155.6,198.1 L1156.6,192.7 L1157.6,187.7 L1158.6,183.1 L1159.6,179.0 L1160.6,175.2 L1161.6,171.9 L1162.6,169.1 L1163.6,166.7 L1164.6,164.9 L1165.6,163.5 L1166.6,162.7 L1167.6,162.3 L1168.6,162.4 L1169.6,162.6 L1170.6,163.0 L1171.6,163.6 L1172.6,164.4 L1173.6,165.3 L1174.6,166.4 L1175.6,167.7 L1176.6,169.1 L1177.6,170.8 L1178.6,172.6 L1179.6,174.5 L1180.6,176.6 L1181.6,178.9 L1182.6,181.3 L1183.6,183.8 L1184.6,186.5 L1185.6,189.4 L1186.6,192.4 L1187.6,195.5 L1188.6,198.7 L1189.6,202.0 L1190.6,205.5 L1191.6,209.0 L1192.6,212.7 L1193.6,216.5 L1194.6,220.3 L1195.6,224.2 L1196.6,228.2 L1197.6,232.3 L1198.6,236.4 L1199.6,240.6 L1200.6,244.8 L1201.6,249.1 L1202.6,253.4 L1203.6,257.8 L1204.6,262.1 L1205.6,266.5 L1206.6,270.8 L1207.6,275.2 L1208.6,279.6 L1209.6,283.9 L1210.6,288.2 L1211.6,292.5 L1212.6,296.7 L1213.6,300.9 L1214.6,305.1 L1215.6,309.2 L1216.6,313.2 L1217.6,317.1 L1218.6,321.0 L1219.6,324.8 L1220.6,328.4 L1221.6,332.0 L1222.6,335.5 L1223.6,338.9 L1224.6,342.1 L1225.6,345.2 L1226.6,348.2 L1227.6,351.1 L1228.6,353.8 L1229.6,356.4 L1230.6,358.9 L1231.6,361.2 L1232.6,363.3 L1233.6,365.3 L1234.6,367.1 L1235.6,368.7 L1236.6,370.2 L1237.6,371.6 L1238.6,372.7 L1239.6,373.7 L1240.6,374.5 L1241.6,375.1 L1242.6,375.5 L1243.6,375.8 L1244.6,375.9 L1245.6,375.7 L1246.6,375.0 L1247.6,374.0 L1248.6,372.4 L1249.6,370.5 L1250.6,368.2 L1251.6,365.4 L1252.6,362.3 L1253.6,358.8 L1254.6,355.0 L1255.6,350.8 L1256.6,346.2 L1257.6,341.4 L1258.6,336.3 L1259.6,330.9 L1260.6,325.3 L1261.6,319.4 L1262.6,313.4 L1263.6,307.2 L1264.6,300.9 L1265.6,294.5 L1266.6,288.0 L1267.6,281.4 L1268.6,274.8 L1269.6,268.2 L1270.6,261.7 L1271.6,255.2 L1272.6,248.8 L1273.6,242.5 L1274.6,236.4 L1275.6,230.4 L1276.6,224.6 L1277.6,219.1 L1278.6,213.8 L1279.6,208.7 L1280.6,204.0 L1281.6,199.5 L1282.6,195.4 L1283.6,191.7 L1284.6,188.3 L1285.6,185.3 L1286.6,182.7 L1287.6,180.5 L1288.6,178.7 L1289.6,177.3 L1290.6,176.3 L1291.6,175.8 L1292.6,175.7 L1293.6,175.9 L1294.6,176.2 L1295.6,176.7 L1296.6,177.4 L1297.6,178.3 L1298.6,179.3 L1299.6,180.5 L1300.6,181.9 L1301.6,183.5 L1302.6,185.3 L1303.6,187.2 L1304.6,189.3 L1305.6,191.5 L1306.6,193.9 L1307.6,196.4 L1308.6,199.1 L1309.6,201.9 L1310.6,204.9 L1311.6,208.0 L1312.6,211.2 L1313.6,214.6 L1314.6,218.0 L1315.6,221.6 L1316.6,225.3 L1317.6,229.1 L1318.6,232.9 L1319.6,236.9 L1320.6,240.9 L1321.6,245.0 L1322.6,249.1 L1323.6,253.3 L1324.6,257.6 L1325.6,261.9 L1326.6,266.2 L1327.6,270.6 L1328.6,274.9 L1329.6,279.3 L1330.6,283.7 L1331.6,288.1 L1332.6,292.4 L1333.6,296.8 L1334.6,301.1 L1335.6,305.3 L1336.6,309.6 L1337.6,313.8 L1338.6,317.9 L1339.6,321.9 L1340.6,325.9 L1341.6,329.8 L1342.6,333.6 L1343.6,337.4 L1344.6,341.0 L1345.6,344.5 L1346.6,347.9 L1347.6,351.2 L1348.6,354.4 L1349.6,357.4 L1350.6,360.3 L1351.6,363.1 L1352.6,365.7 L1353.6,368.1 L1354.6,370.4 L1355.6,372.6 L1356.6,374.6 L1357.6,376.4 L1358.6,378.1 L1359.6,379.6 L1360.6,380.9 L1361.6,382.0 L1362.6,383.0 L1363.6,383.8 L1364.6,384.4 L1365.6,384.8 L1366.6,385.0 L1367.6,385.1 L1368.6,384.8 L1369.6,383.9 L1370.6,382.7 L1371.6,380.9 L1372.6,378.7 L1373.6,376.0 L1374.6,372.9 L1375.6,369.4 L1376.6,365.5 L1377.6,361.1 L1378.6,356.4 L1379.6,351.4 L1380.6,346.0 L1381.6,340.3 L1382.6,334.3 L1383.6,328.1 L1384.6,321.7 L1385.6,315.0 L1386.6,308.2 L1387.6,301.2 L1388.6,294.2 L1389.6,287.0 L1390.6,279.8 L1391.6,272.6 L1392.6,265.4 L1393.6,258.3 L1394.6,251.3 L1395.6,244.3 L1396.6,237.5 L1397.6,230.9 L1398.6,224.4 L1399.6,218.2 L1400.6,212.3 L1401.6,206.6 L1402.6,201.3 L1403.6,196.3 L1404.6,191.6 L1405.6,187.3 L1406.6,183.4 L1407.6,179.9 L1408.6,176.9 L1409.6,174.3 L1410.6,172.1 L1411.6,170.4 L1412.6,169.2 L1413.6,168.4 L1414.6,168.1 L1415.6,168.2 L1416.6,168.4 L1417.6,168.8 L1418.6,169.4 L1419.6,170.1 L1420.6,171.0 L1421.6,172.0 L1422.6,173.2 L1423.6,174.6 L1424.6,176.1 L1425.6,177.8 L1426.6,179.6 L1427.6,181.6 L1428.6,183.7 L1429.6,186.0 L1430.6,188.4 L1431.6,190.9 L1432.6,193.5 L1433.6,196.3 L1434.6,199.2 L1435.6,202.2 L1436.6,205.3 L1437.6,208.6 L1438.6,211.9 L1439.6,215.3 L1440.6,218.8 L1441.6,222.4 L1442.6,226.0 L1443.6,229.7 L1444.6,233.5 L1445.6,237.4 L1446.6,241.3 L1447.6,245.2 L1448.6,249.2 L1449.6,253.2 L1450.6,257.2 L1451.6,261.3 L1452.6,265.3 L1453.6,269.4 L1454.6,273.4 L1455.6,277.5 L1456.6,281.5 L1457.6,285.5 L1458.6,289.5 L1459.6,293.4 L1460.6,297.3 L1461.6,301.2 L1462.6,305.0 L1463.6,308.7 L1464.6,312.3 L1465.6,315.9 L1466.6,319.4 L1467.6,322.8 L1468.6,326.1 L1469.6,329.4 L1470.6,332.5 L1471.6,335.5 L1472.6,338.4 L1473.6,341.2 L1474.6,343.8 L1475.6,346.3 L1476.6,348.7 L1477.6,351.0 L1478.6,353.1 L1479.6,355.1 L1480.6,356.9 L1481.6,358.6 L1482.6,360.1 L1483.6,361.5 L1484.6,362.7 L1485.6,363.7 L1486.6,364.6 L1487.6,365.3 L1488.6,365.9 L1489.6,366.3 L1490.6,366.5 L1491.6,366.6 L1492.6,366.4 L1493.6,365.7 L1494.6,364.7 L1495.6,363.3 L1496.6,361.6 L1497.6,359.4 L1498.6,356.9 L1499.6,354.0 L1500.6,350.8 L1501.6,347.3 L1502.6,343.5 L1503.6,339.4 L1504.6,334.9 L1505.6,330.3 L1506.6,325.4 L1507.6,320.2 L1508.6,314.9 L1509.6,309.4 L1510.6,303.8 L1511.6,298.0 L1512.6,292.1 L1513.6,286.1 L1514.6,280.1 L1515.6,274.1 L1516.6,268.0 L1517.6,262.0 L1518.6,256.0 L1519.6,250.1 L1520.6,244.2 L1521.6,238.5 L1522.6,233.0 L1523.6,227.6 L1524.6,222.4 L1525.6,217.4 L1526.6,212.6 L1527.6,208.1 L1528.6,203.8 L1529.6,199.9 L1530.6,196.2 L1531.6,192.9 L1532.6,189.9 L1533.6,187.3 L1534.6,185.0 L1535.6,183.0 L1536.6,181.5 L1537.6,180.3 L1538.6,179.5 L1539.6,179.1 L1540.6,179.1 L1541.6,179.3 L1542.6,179.6 L1543.6,180.1 L1544.6,180.7 L1545.6,181.5 L1546.6,182.5 L1547.6,183.6 L1548.6,184.9 L1549.6,186.3 L1550.6,187.9 L1551.6,189.6 L1552.6,191.4 L1553.6,193.4 L1554.6,195.6 L1555.6,197.8 L1556.6,200.2 L1557.6,202.7 L1558.6,205.4 L1559.6,208.1 L1560.6,211.0 L1561.6,214.0 L1562.6,217.0 L1563.6,220.2 L1564.6,223.4 L1565.6,226.8 L1566.6,230.2 L1567.6,233.7 L1568.6,237.2 L1569.6,240.8 L1570.6,244.5 L1571.6,248.2 L1572.6,251.9 L1573.6,255.7 L1574.6,259.5 L1575.6,263.4 L1576.6,267.2 L1577.6,271.0 L1578.6,274.9 L1579.6,278.7 L1580.6,282.5 L1581.6,286.3 L1582.6,290.1 L1583.6,293.8 L1584.6,297.5 L1585.6,301.2 L1586.6,304.8 L1587.6,308.3 L1588.6,311.8 L1589.6,315.2 L1590.6,318.5 L1591.6,321.8 L1592.6,324.9 L1593.6,327.9 L1594.6,330.9 L1595.6,333.7 L1596.6,336.5 L1597.6,339.1 L1598.6,341.6 L1599.6,343.9 L1600.6,346.2 L1601.6,348.3 L1602.6,350.3 L1603.6,352.1 L1604.6,353.8 L1605.6,355.3 L1606.6,356.7 L1607.6,357.9 L1608.6,359.0 L1609.6,359.9 L1610.6,360.7 L1611.6,361.3 L1612.6,361.8 L1613.6,362.1 L1614.6,362.2 L1615.6,362.1 L1616.6,361.6 L1617.6,360.7 L1618.6,359.4 L1619.6,357.7 L1620.6,355.6 L1621.6,353.2 L1622.6,350.4 L1623.6,347.2 L1624.6,343.6 L1625.6,339.8 L1626.6,335.6 L1627.6,331.2 L1628.6,326.4 L1629.6,321.5 L1630.6,316.3 L1631.6,310.8 L1632.6,305.2 L1633.6,299.5 L1634.6,293.6 L1635.6,287.6 L1636.6,281.6 L1637.6,275.4 L1638.6,269.3 L1639.6,263.1 L1640.6,257.0 L1641.6,251.0 L1642.6,245.0 L1643.6,239.1 L1644.6,233.4 L1645.6,227.8 L1646.6,222.4 L1647.6,217.2 L1648.6,212.3 L1649.6,207.6 L1650.6,203.2 L1651.6,199.0 L1652.6,195.2 L1653.6,191.7 L1654.6,188.5 L1655.6,185.8 L1656.6,183.3 L1657.6,181.3 L1658.6,179.6 L1659.6,178.4 L1660.6,177.5 L1661.6,177.1 L1662.6,177.0 L1663.6,177.1 L1664.6,177.4 L1665.6,177.9 L1666.6,178.4 L1667.6,179.2 L1668.6,180.0 L1669.6,181.1 L1670.6,182.2 L1671.6,183.5 L1672.6,185.0 L1673.6,186.5 L1674.6,188.2 L1675.6,190.1 L1676.6,192.0 L1677.6,194.1 L1678.6,196.3 L1679.6,198.6 L1680.6,201.1 L1681.6,203.6 L1682.6,206.3 L1683.6,209.0 L1684.6,211.8 L1685.6,214.8 L1686.6,217.8 L1687.6,220.9 L1688.6,224.0 L1689.6,227.2 L1690.6,230.5 L1691.6,233.9 L1692.6,237.3 L1693.6,240.7 L1694.6,244.2 L1695.6,247.7 L1696.6,251.3 L1697.6,254.8 L1698.6,258.4 L1699.6,262.0 L1700.6,265.6 L1701.6,269.1 L1702.6,272.7 L1703.6,276.3 L1704.6,279.8 L1705.6,283.3 L1706.6,286.8 L1707.6,290.2 L1708.6,293.6 L1709.6,296.9 L1710.6,300.2 L1711.6,303.4 L1712.6,306.5 L1713.6,309.5 L1714.6,312.5 L1715.6,315.4 L1716.6,318.2 L1717.6,320.9 L1718.6,323.5 L1719.6,326.0 L1720.6,328.4 L1721.6,330.7 L1722.6,332.8 L1723.6,334.9 L1724.6,336.8 L1725.6,338.6 L1726.6,340.2 L1727.6,341.7 L1728.6,343.1 L1729.6,344.4 L1730.6,345.5 L1731.6,346.4 L1732.6,347.2 L1733.6,347.9 L1734.6,348.4 L1735.6,348.8 L1736.6,349.0 L1737.6,349.1 L1738.6,349.0 L1739.6,348.7 L1740.6,348.2 L1741.6,347.5 L1742.6,346.6 L1743.6,345.5 L1744.6,344.2 L1745.6,342.7 L1746.6,341.1 L1747.6,339.2 L1748.6,337.2 L1749.6,335.0 L1750.6,332.7 L1751.6,330.1 L1752.6,327.5 L1753.6,324.6 L1754.6,321.7 L1755.6,318.5 L1756.6,315.3 L1757.6,312.0 L1758.6,308.5 L1759.6,304.9" fill="none" stroke="#2182c8" stroke-width="3" stroke-linejoin="round"/><rect x="70" y="405" width="1682" height="2" fill="#1f7fc8"/><rect x="70.00" y="122" width="78.23" height="285" fill="#b4b4b4" fill-opacity="0.25"/><rect x="254.07" y="122" width="134.17" height="285" fill="#b4b4b4" fill-opacity="0.25"/><rect x="494.23" y="122" width="133.83" height="285" fill="#b4b4b4" fill-opacity="0.25"/><rect x="734.40" y="122" width="133.50" height="285" fill="#b4b4b4" fill-opacity="0.25"/><rect x="974.57" y="122" width="133.17" height="285" fill="#b4b4b4" fill-opacity="0.25"/><rect x="1214.73" y="122" width="133.00" height="285" fill="#b4b4b4" fill-opacity="0.25"/><rect x="1454.90" y="122" width="132.67" height="285" fill="#b4b4b4" fill-opacity="0.25"/><rect x="1695.07" y="122" width="160.33" height="285" fill="#b4b4b4" fill-opacity="0.25"/><rect x="70" y="122" width="2" height="285" fill="#f6f6f6" fill-opacity="0.7"/><rect x="72" y="233.2" width="3" height="172.8" fill="#1e7fcc"/><circle cx="124.0" cy="360.5" r="3.9" fill="#0e8793" stroke="#ffffff" stroke-width="1"/><circle cx="173.7" cy="168.1" r="3.9" fill="#3d9ade" stroke="#ffffff" stroke-width="1"/><circle cx="252.3" cy="329.5" r="3.9" fill="#0e8793" stroke="#ffffff" stroke-width="1"/><circle cx="298.5" cy="191.5" r="3.9" fill="#3d9ade" stroke="#ffffff" stroke-width="1"/><circle cx="373.5" cy="380.7" r="3.9" fill="#0e8793" stroke="#ffffff" stroke-width="1"/><circle cx="423.5" cy="162.3" r="3.9" fill="#3d9ade" stroke="#ffffff" stroke-width="1"/><circle cx="501.4" cy="351.2" r="3.9" fill="#0e8793" stroke="#ffffff" stroke-width="1"/><circle cx="547.6" cy="183.5" r="3.9" fill="#3d9ade" stroke="#ffffff" stroke-width="1"/><circle cx="623.1" cy="394.4" r="3.9" fill="#0e8793" stroke="#ffffff" stroke-width="1"/><circle cx="672.4" cy="158.9" r="3.9" fill="#3d9ade" stroke="#ffffff" stroke-width="1"/><circle cx="749.9" cy="368.0" r="3.9" fill="#0e8793" stroke="#ffffff" stroke-width="1"/><circle cx="796.5" cy="179.4" r="3.9" fill="#3d9ade" stroke="#ffffff" stroke-width="1"/><circle cx="871.6" cy="402.3" r="3.9" fill="#0e8793" stroke="#ffffff" stroke-width="1"/><circle cx="920.0" cy="158.9" r="3.9" fill="#3d9ade" stroke="#ffffff" stroke-width="1"/><circle cx="997.5" cy="377.2" r="3.9" fill="#0e8793" stroke="#ffffff" stroke-width="1"/><circle cx="1044.4" cy="175.7" r="3.9" fill="#3d9ade" stroke="#ffffff" stroke-width="1"/><circle cx="1119.8" cy="399.2" r="3.9" fill="#0e8793" stroke="#ffffff" stroke-width="1"/><circle cx="1167.8" cy="162.3" r="3.9" fill="#3d9ade" stroke="#ffffff" stroke-width="1"/><circle cx="1244.6" cy="375.9" r="3.9" fill="#0e8793" stroke="#ffffff" stroke-width="1"/><circle cx="1292.3" cy="175.7" r="3.9" fill="#3d9ade" stroke="#ffffff" stroke-width="1"/><circle cx="1367.4" cy="385.1" r="3.9" fill="#0e8793" stroke="#ffffff" stroke-width="1"/><circle cx="1414.7" cy="168.1" r="3.9" fill="#3d9ade" stroke="#ffffff" stroke-width="1"/><circle cx="1491.5" cy="366.6" r="3.9" fill="#0e8793" stroke="#ffffff" stroke-width="1"/><circle cx="1540.1" cy="179.1" r="3.9" fill="#3d9ade" stroke="#ffffff" stroke-width="1"/><circle cx="1614.9" cy="362.2" r="3.9" fill="#0e8793" stroke="#ffffff" stroke-width="1"/><circle cx="1662.2" cy="177.0" r="3.9" fill="#3d9ade" stroke="#ffffff" stroke-width="1"/><circle cx="1737.6" cy="349.1" r="3.9" fill="#0e8793" stroke="#ffffff" stroke-width="1"/></g><rect x="69" y="121" width="1683" height="1" fill="#808080"/><rect x="0" y="122" width="69" height="285" fill="#f4f4f4"/><rect x="69" y="121" width="1" height="666" fill="#808080"/><g><text x="66.70" y="122.50" font-size="12" font-weight="400" fill="#222" text-anchor="end" >1.28ft (0.39m)</text><text x="66.70" y="153.80" font-size="12" font-weight="400" fill="#222" text-anchor="end" >1.07ft (0.33m)</text><text x="66.70" y="185.10" font-size="12" font-weight="400" fill="#222" text-anchor="end" >0.87ft (0.27m)</text><text x="66.70" y="216.40" font-size="12" font-weight="400" fill="#222" text-anchor="end" >0.67ft (0.2m)</text><text x="66.70" y="247.70" font-size="12" font-weight="400" fill="#222" text-anchor="end" >0.46ft (0.14m)</text><text x="66.70" y="279.00" font-size="12" font-weight="400" fill="#222" text-anchor="end" >0.26ft (0.08m)</text><text x="66.70" y="310.30" font-size="12" font-weight="400" fill="#222" text-anchor="end" >0.05ft (0.02m)</text><text x="66.70" y="341.60" font-size="12" font-weight="400" fill="#222" text-anchor="end" >-0.15ft (-0.05m)</text><text x="66.70" y="372.90" font-size="12" font-weight="400" fill="#222" text-anchor="end" >-0.35ft (-0.11m)</text><text x="66.70" y="404.20" font-size="12" font-weight="400" fill="#222" text-anchor="end" >-0.56ft (-0.17m)</text></g><rect x="0" y="98" width="69" height="23" fill="#f4f4f4"/><rect x="0" y="121" width="69" height="1" fill="#f4f4f4"/><rect x="0" y="407" width="69" height="380" fill="#f4f4f4"/><rect x="70" y="408" width="1682" height="59.5" fill="#f5f9fd"/><rect x="70" y="467.5" width="1682" height="58.5" fill="#ffffff"/><rect x="70" y="528" width="1682" height="44.5" fill="#fefef2"/><rect x="0" y="527" width="69" height="45.5" fill="#fefef2"/><rect x="191" y="528" width="59" height="44.5" fill="#ececec"/><rect x="433" y="528" width="59" height="44.5" fill="#ececec"/><rect x="673" y="528" width="59" height="44.5" fill="#ececec"/><rect x="918" y="528" width="60" height="44.5" fill="#ececec"/><rect x="1162" y="528" width="59" height="44.5" fill="#ececec"/><rect x="1402" y="528" width="59" height="44.5" fill="#ececec"/><rect x="1642" y="528" width="59" height="44.5" fill="#ececec"/><rect x="70" y="572.5" width="1682" height="79.5" fill="#ffffff"/><rect x="70" y="653" width="1682" height="47" fill="#ffffff"/><rect x="70" y="700" width="1682" height="59" fill="#ffffff"/><rect x="70" y="759.5" width="1682" height="28" fill="#f9f9f9"/><rect x="130" y="408" width="1" height="351" fill="#e9e9e9"/><rect x="190" y="408" width="1" height="351" fill="#e9e9e9"/><rect x="250" y="408" width="1" height="351" fill="#e9e9e9"/><rect x="370" y="408" width="1" height="351" fill="#e9e9e9"/><rect x="432" y="408" width="1" height="351" fill="#e9e9e9"/><rect x="492" y="408" width="1" height="351" fill="#e9e9e9"/><rect x="612" y="408" width="1" height="351" fill="#e9e9e9"/><rect x="672" y="408" width="1" height="351" fill="#e9e9e9"/><rect x="732" y="408" width="1" height="351" fill="#e9e9e9"/><rect x="857" y="408" width="1" height="351" fill="#e9e9e9"/><rect x="917" y="408" width="1" height="351" fill="#e9e9e9"/><rect x="978" y="408" width="1" height="351" fill="#e9e9e9"/><rect x="1101" y="408" width="1" height="351" fill="#e9e9e9"/><rect x="1161" y="408" width="1" height="351" fill="#e9e9e9"/><rect x="1221" y="408" width="1" height="351" fill="#e9e9e9"/><rect x="1341" y="408" width="1" height="351" fill="#e9e9e9"/><rect x="1401" y="408" width="1" height="351" fill="#e9e9e9"/><rect x="1461" y="408" width="1" height="351" fill="#e9e9e9"/><rect x="1581" y="408" width="1" height="351" fill="#e9e9e9"/><rect x="1641" y="408" width="1" height="351" fill="#e9e9e9"/><rect x="1701" y="408" width="1" height="351" fill="#e9e9e9"/><rect x="0" y="467" width="1752" height="1" fill="#e9e9e9"/><rect x="0" y="572" width="1752" height="1" fill="#e9e9e9"/><rect x="310" y="408" width="1" height="351" fill="#808080"/><rect x="552" y="408" width="1" height="351" fill="#808080"/><rect x="792" y="408" width="1" height="351" fill="#808080"/><rect x="1038" y="408" width="1" height="351" fill="#808080"/><rect x="1281" y="408" width="1" height="351" fill="#808080"/><rect x="1521" y="408" width="1" height="351" fill="#808080"/><rect x="1761" y="408" width="1" height="351" fill="#808080"/><rect x="0" y="406" width="69" height="2" fill="#234a6c"/><rect x="70" y="407" width="1682" height="2" fill="#234a6c"/><rect x="0" y="525" width="69" height="2" fill="#234a6c"/><rect x="70" y="526" width="1682" height="2" fill="#234a6c"/><rect x="0" y="651.5" width="1752" height="1.2" fill="#3b5e80"/><rect x="0" y="758.5" width="1752" height="1.2" fill="#3b5e80"/><rect x="69" y="121" width="1" height="666" fill="#7a7a7a"/><text x="35.00" y="434.20" font-size="14" font-weight="700" fill="#4a82c0" text-anchor="middle" >HIGH</text><text x="35.00" y="450.70" font-size="14" font-weight="400" fill="#404040" text-anchor="middle" >(EST)</text><text x="35.00" y="492.90" font-size="14" font-weight="700" fill="#13838f" text-anchor="middle" >LOW</text><text x="35.00" y="509.40" font-size="14" font-weight="400" fill="#404040" text-anchor="middle" >(EST)</text><text x="35.00" y="555.00" font-size="14" font-weight="400" fill="#3a3a3a" text-anchor="middle" >Sun</text><path d="M30.5,541 L35,535.8 L39.5,541 Z M31,558.5 L35,563.5 L39,558.5 Z" fill="#111"/><text x="35.00" y="596.50" font-size="14" font-weight="400" fill="#3a3a3a" text-anchor="middle" >Moon</text><text x="35.00" y="624.00" font-size="14" font-weight="400" fill="#3a3a3a" text-anchor="middle" >Set</text><text x="35.00" y="644.00" font-size="14" font-weight="400" fill="#3a3a3a" text-anchor="middle" >Rise</text><text x="35.00" y="672.00" font-size="14" font-weight="400" fill="#3a3a3a" text-anchor="middle" >Wind</text><text x="35" y="688.5" font-size="14" fill="#333" text-anchor="middle">(<tspan fill="#4a86c8" text-decoration="underline">mph</tspan>)</text><text x="160.50" y="427.80" font-size="12.7" font-weight="700" fill="#4d88c4" text-anchor="middle" letter-spacing="0.45">9:50AM</text><text x="160.50" y="441.80" font-size="12.5" font-weight="400" fill="#444" text-anchor="middle" >0.30m</text><text x="160.50" y="455.60" font-size="12.5" font-weight="400" fill="#444" text-anchor="middle" >(0.3m)</text><text x="280.50" y="427.80" font-size="12.7" font-weight="700" fill="#4d88c4" text-anchor="middle" letter-spacing="0.45">10:19PM</text><text x="280.50" y="441.80" font-size="12.5" font-weight="400" fill="#444" text-anchor="middle" >0.25m</text><text x="280.50" y="455.60" font-size="12.5" font-weight="400" fill="#444" text-anchor="middle" >(0.25m)</text><text x="401.50" y="427.80" font-size="12.7" font-weight="700" fill="#4d88c4" text-anchor="middle" letter-spacing="0.45">10:49AM</text><text x="401.50" y="441.80" font-size="12.5" font-weight="400" fill="#444" text-anchor="middle" >0.31m</text><text x="401.50" y="455.60" font-size="12.5" font-weight="400" fill="#444" text-anchor="middle" >(0.31m)</text><text x="522.50" y="427.80" font-size="12.7" font-weight="700" fill="#4d88c4" text-anchor="middle" letter-spacing="0.45">11:16PM</text><text x="522.50" y="441.80" font-size="12.5" font-weight="400" fill="#444" text-anchor="middle" >0.27m</text><text x="522.50" y="455.60" font-size="12.5" font-weight="400" fill="#444" text-anchor="middle" >(0.27m)</text><text x="642.50" y="427.80" font-size="12.7" font-weight="700" fill="#4d88c4" text-anchor="middle" letter-spacing="0.45">11:42AM</text><text x="642.50" y="441.80" font-size="12.5" font-weight="400" fill="#444" text-anchor="middle" >0.32m</text><text x="642.50" y="455.60" font-size="12.5" font-weight="400" fill="#444" text-anchor="middle" >(0.32m)</text><text x="825.00" y="427.80" font-size="12.7" font-weight="700" fill="#4d88c4" text-anchor="middle" letter-spacing="0.45">00:08AM</text><text x="825.00" y="441.80" font-size="12.5" font-weight="400" fill="#444" text-anchor="middle" >0.28m</text><text x="825.00" y="455.60" font-size="12.5" font-weight="400" fill="#444" text-anchor="middle" >(0.28m)</text><text x="948.00" y="427.80" font-size="12.7" font-weight="700" fill="#4d88c4" text-anchor="middle" letter-spacing="0.45">12:29PM</text><text x="948.00" y="441.80" font-size="12.5" font-weight="400" fill="#444" text-anchor="middle" >0.32m</text><text x="948.00" y="455.60" font-size="12.5" font-weight="400" fill="#444" text-anchor="middle" >(0.32m)</text><text x="1070.00" y="427.80" font-size="12.7" font-weight="700" fill="#4d88c4" text-anchor="middle" letter-spacing="0.45">00:55AM</text><text x="1070.00" y="441.80" font-size="12.5" font-weight="400" fill="#444" text-anchor="middle" >0.28m</text><text x="1070.00" y="455.60" font-size="12.5" font-weight="400" fill="#444" text-anchor="middle" >(0.28m)</text><text x="1191.50" y="427.80" font-size="12.7" font-weight="700" fill="#4d88c4" text-anchor="middle" letter-spacing="0.45">1:14PM</text><text x="1191.50" y="441.80" font-size="12.5" font-weight="400" fill="#444" text-anchor="middle" >0.31m</text><text x="1191.50" y="455.60" font-size="12.5" font-weight="400" fill="#444" text-anchor="middle" >(0.31m)</text><text x="1311.50" y="427.80" font-size="12.7" font-weight="700" fill="#4d88c4" text-anchor="middle" letter-spacing="0.45">1:41AM</text><text x="1311.50" y="441.80" font-size="12.5" font-weight="400" fill="#444" text-anchor="middle" >0.28m</text><text x="1311.50" y="455.60" font-size="12.5" font-weight="400" fill="#444" text-anchor="middle" >(0.28m)</text><text x="1431.50" y="427.80" font-size="12.7" font-weight="700" fill="#4d88c4" text-anchor="middle" letter-spacing="0.45">1:57PM</text><text x="1431.50" y="441.80" font-size="12.5" font-weight="400" fill="#444" text-anchor="middle" >0.30m</text><text x="1431.50" y="455.60" font-size="12.5" font-weight="400" fill="#444" text-anchor="middle" >(0.3m)</text><text x="1551.50" y="427.80" font-size="12.7" font-weight="700" fill="#4d88c4" text-anchor="middle" letter-spacing="0.45">2:26AM</text><text x="1551.50" y="441.80" font-size="12.5" font-weight="400" fill="#444" text-anchor="middle" >0.28m</text><text x="1551.50" y="455.60" font-size="12.5" font-weight="400" fill="#444" text-anchor="middle" >(0.28m)</text><text x="1671.50" y="427.80" font-size="12.7" font-weight="700" fill="#4d88c4" text-anchor="middle" letter-spacing="0.45">2:39PM</text><text x="1671.50" y="441.80" font-size="12.5" font-weight="400" fill="#444" text-anchor="middle" >0.28m</text><text x="1671.50" y="455.60" font-size="12.5" font-weight="400" fill="#444" text-anchor="middle" >(0.28m)</text><text x="100.00" y="487.00" font-size="12.7" font-weight="700" fill="#1a8c9c" text-anchor="middle" letter-spacing="0.45">4:52AM</text><text x="100.00" y="501.00" font-size="12.5" font-weight="400" fill="#444" text-anchor="middle" >-0.08m</text><text x="100.00" y="514.80" font-size="12.5" font-weight="400" fill="#444" text-anchor="middle" >(-0.08m)</text><text x="220.50" y="487.00" font-size="12.7" font-weight="700" fill="#1a8c9c" text-anchor="middle" letter-spacing="0.45">5:43PM</text><text x="220.50" y="501.00" font-size="12.5" font-weight="400" fill="#444" text-anchor="middle" >-0.02m</text><text x="220.50" y="514.80" font-size="12.5" font-weight="400" fill="#444" text-anchor="middle" >(-0.02m)</text><text x="340.50" y="487.00" font-size="12.7" font-weight="700" fill="#1a8c9c" text-anchor="middle" letter-spacing="0.45">5:51AM</text><text x="340.50" y="501.00" font-size="12.5" font-weight="400" fill="#444" text-anchor="middle" >-0.12m</text><text x="340.50" y="514.80" font-size="12.5" font-weight="400" fill="#444" text-anchor="middle" >(-0.12m)</text><text x="522.50" y="487.00" font-size="12.7" font-weight="700" fill="#1a8c9c" text-anchor="middle" letter-spacing="0.45">6:38PM</text><text x="522.50" y="501.00" font-size="12.5" font-weight="400" fill="#444" text-anchor="middle" >-0.06m</text><text x="522.50" y="514.80" font-size="12.5" font-weight="400" fill="#444" text-anchor="middle" >(-0.06m)</text><text x="642.50" y="487.00" font-size="12.7" font-weight="700" fill="#1a8c9c" text-anchor="middle" letter-spacing="0.45">6:47AM</text><text x="642.50" y="501.00" font-size="12.5" font-weight="400" fill="#444" text-anchor="middle" >-0.15m</text><text x="642.50" y="514.80" font-size="12.5" font-weight="400" fill="#444" text-anchor="middle" >(-0.15m)</text><text x="762.50" y="487.00" font-size="12.7" font-weight="700" fill="#1a8c9c" text-anchor="middle" letter-spacing="0.45">7:28PM</text><text x="762.50" y="501.00" font-size="12.5" font-weight="400" fill="#444" text-anchor="middle" >-0.09m</text><text x="762.50" y="514.80" font-size="12.5" font-weight="400" fill="#444" text-anchor="middle" >(-0.09m)</text><text x="887.50" y="487.00" font-size="12.7" font-weight="700" fill="#1a8c9c" text-anchor="middle" letter-spacing="0.45">7:39AM</text><text x="887.50" y="501.00" font-size="12.5" font-weight="400" fill="#444" text-anchor="middle" >-0.16m</text><text x="887.50" y="514.80" font-size="12.5" font-weight="400" fill="#444" text-anchor="middle" >(-0.16m)</text><text x="1008.50" y="487.00" font-size="12.7" font-weight="700" fill="#1a8c9c" text-anchor="middle" letter-spacing="0.45">8:13PM</text><text x="1008.50" y="501.00" font-size="12.5" font-weight="400" fill="#444" text-anchor="middle" >-0.11m</text><text x="1008.50" y="514.80" font-size="12.5" font-weight="400" fill="#444" text-anchor="middle" >(-0.11m)</text><text x="1131.50" y="487.00" font-size="12.7" font-weight="700" fill="#1a8c9c" text-anchor="middle" letter-spacing="0.45">8:27AM</text><text x="1131.50" y="501.00" font-size="12.5" font-weight="400" fill="#444" text-anchor="middle" >-0.16m</text><text x="1131.50" y="514.80" font-size="12.5" font-weight="400" fill="#444" text-anchor="middle" >(-0.16m)</text><text x="1251.50" y="487.00" font-size="12.7" font-weight="700" fill="#1a8c9c" text-anchor="middle" letter-spacing="0.45">8:56PM</text><text x="1251.50" y="501.00" font-size="12.5" font-weight="400" fill="#444" text-anchor="middle" >-0.11m</text><text x="1251.50" y="514.80" font-size="12.5" font-weight="400" fill="#444" text-anchor="middle" >(-0.11m)</text><text x="1371.50" y="487.00" font-size="12.7" font-weight="700" fill="#1a8c9c" text-anchor="middle" letter-spacing="0.45">9:12AM</text><text x="1371.50" y="501.00" font-size="12.5" font-weight="400" fill="#444" text-anchor="middle" >-0.13m</text><text x="1371.50" y="514.80" font-size="12.5" font-weight="400" fill="#444" text-anchor="middle" >(-0.13m)</text><text x="1491.50" y="487.00" font-size="12.7" font-weight="700" fill="#1a8c9c" text-anchor="middle" letter-spacing="0.45">9:35PM</text><text x="1491.50" y="501.00" font-size="12.5" font-weight="400" fill="#444" text-anchor="middle" >-0.09m</text><text x="1491.50" y="514.80" font-size="12.5" font-weight="400" fill="#444" text-anchor="middle" >(-0.09m)</text><text x="1611.50" y="487.00" font-size="12.7" font-weight="700" fill="#1a8c9c" text-anchor="middle" letter-spacing="0.45">9:56AM</text><text x="1611.50" y="501.00" font-size="12.5" font-weight="400" fill="#444" text-anchor="middle" >-0.08m</text><text x="1611.50" y="514.80" font-size="12.5" font-weight="400" fill="#444" text-anchor="middle" >(-0.08m)</text><text x="1731.50" y="487.00" font-size="12.7" font-weight="700" fill="#1a8c9c" text-anchor="middle" letter-spacing="0.45">10:13PM</text><text x="1731.50" y="501.00" font-size="12.5" font-weight="400" fill="#444" text-anchor="middle" >-0.06m</text><text x="1731.50" y="514.80" font-size="12.5" font-weight="400" fill="#444" text-anchor="middle" >(-0.06m)</text><path d="M150.5,546.8 L157.5,546.8 L160.5,544.1999999999999 L163.5,546.8 L170.5,546.8 M154.8,544 A5.7,5.7 0 0 1 166.2,544 M160.5,534 L160.5,536.6 M153.7,536.8 L155.6,538.6 M167.3,536.8 L165.4,538.6 M150.5,543.6 L153.5,543.6 M167.5,543.6 L170.5,543.6" fill="none" stroke="#333" stroke-width="1.3"/><text x="160.50" y="564.80" font-size="12.5" font-weight="400" fill="#444" text-anchor="middle" >7:17AM</text><path d="M210.5,546.8 L217.5,546.8 L220.5,549.5999999999999 L223.5,546.8 L230.5,546.8 M214.8,544 A5.7,5.7 0 0 1 226.2,544 M220.5,534 L220.5,536.6 M213.7,536.8 L215.6,538.6 M227.3,536.8 L225.4,538.6 M210.5,543.6 L213.5,543.6 M227.5,543.6 L230.5,543.6" fill="none" stroke="#333" stroke-width="1.3"/><text x="220.50" y="564.80" font-size="12.5" font-weight="400" fill="#444" text-anchor="middle" >5:52PM</text><path d="M391.5,546.8 L398.5,546.8 L401.5,544.1999999999999 L404.5,546.8 L411.5,546.8 M395.8,544 A5.7,5.7 0 0 1 407.2,544 M401.5,534 L401.5,536.6 M394.7,536.8 L396.6,538.6 M408.3,536.8 L406.4,538.6 M391.5,543.6 L394.5,543.6 M408.5,543.6 L411.5,543.6" fill="none" stroke="#333" stroke-width="1.3"/><text x="401.50" y="564.80" font-size="12.5" font-weight="400" fill="#444" text-anchor="middle" >7:17AM</text><path d="M452.5,546.8 L459.5,546.8 L462.5,549.5999999999999 L465.5,546.8 L472.5,546.8 M456.8,544 A5.7,5.7 0 0 1 468.2,544 M462.5,534 L462.5,536.6 M455.7,536.8 L457.6,538.6 M469.3,536.8 L467.4,538.6 M452.5,543.6 L455.5,543.6 M469.5,543.6 L472.5,543.6" fill="none" stroke="#333" stroke-width="1.3"/><text x="462.50" y="564.80" font-size="12.5" font-weight="400" fill="#444" text-anchor="middle" >5:53PM</text><path d="M632.5,546.8 L639.5,546.8 L642.5,544.1999999999999 L645.5,546.8 L652.5,546.8 M636.8,544 A5.7,5.7 0 0 1 648.2,544 M642.5,534 L642.5,536.6 M635.7,536.8 L637.6,538.6 M649.3,536.8 L647.4,538.6 M632.5,543.6 L635.5,543.6 M649.5,543.6 L652.5,543.6" fill="none" stroke="#333" stroke-width="1.3"/><text x="642.50" y="564.80" font-size="12.5" font-weight="400" fill="#444" text-anchor="middle" >7:16AM</text><path d="M692.5,546.8 L699.5,546.8 L702.5,549.5999999999999 L705.5,546.8 L712.5,546.8 M696.8,544 A5.7,5.7 0 0 1 708.2,544 M702.5,534 L702.5,536.6 M695.7,536.8 L697.6,538.6 M709.3,536.8 L707.4,538.6 M692.5,543.6 L695.5,543.6 M709.5,543.6 L712.5,543.6" fill="none" stroke="#333" stroke-width="1.3"/><text x="702.50" y="564.80" font-size="12.5" font-weight="400" fill="#444" text-anchor="middle" >5:54PM</text><path d="M877.5,546.8 L884.5,546.8 L887.5,544.1999999999999 L890.5,546.8 L897.5,546.8 M881.8,544 A5.7,5.7 0 0 1 893.2,544 M887.5,534 L887.5,536.6 M880.7,536.8 L882.6,538.6 M894.3,536.8 L892.4,538.6 M877.5,543.6 L880.5,543.6 M894.5,543.6 L897.5,543.6" fill="none" stroke="#333" stroke-width="1.3"/><text x="887.50" y="564.80" font-size="12.5" font-weight="400" fill="#444" text-anchor="middle" >7:15AM</text><path d="M938.0,546.8 L945.0,546.8 L948.0,549.5999999999999 L951.0,546.8 L958.0,546.8 M942.3,544 A5.7,5.7 0 0 1 953.7,544 M948.0,534 L948.0,536.6 M941.2,536.8 L943.1,538.6 M954.8,536.8 L952.9,538.6 M938.0,543.6 L941.0,543.6 M955.0,543.6 L958.0,543.6" fill="none" stroke="#333" stroke-width="1.3"/><text x="948.00" y="564.80" font-size="12.5" font-weight="400" fill="#444" text-anchor="middle" >5:55PM</text><path d="M1121.5,546.8 L1128.5,546.8 L1131.5,544.1999999999999 L1134.5,546.8 L1141.5,546.8 M1125.8,544 A5.7,5.7 0 0 1 1137.2,544 M1131.5,534 L1131.5,536.6 M1124.7,536.8 L1126.6,538.6 M1138.3,536.8 L1136.4,538.6 M1121.5,543.6 L1124.5,543.6 M1138.5,543.6 L1141.5,543.6" fill="none" stroke="#333" stroke-width="1.3"/><text x="1131.50" y="564.80" font-size="12.5" font-weight="400" fill="#444" text-anchor="middle" >7:14AM</text><path d="M1181.5,546.8 L1188.5,546.8 L1191.5,549.5999999999999 L1194.5,546.8 L1201.5,546.8 M1185.8,544 A5.7,5.7 0 0 1 1197.2,544 M1191.5,534 L1191.5,536.6 M1184.7,536.8 L1186.6,538.6 M1198.3,536.8 L1196.4,538.6 M1181.5,543.6 L1184.5,543.6 M1198.5,543.6 L1201.5,543.6" fill="none" stroke="#333" stroke-width="1.3"/><text x="1191.50" y="564.80" font-size="12.5" font-weight="400" fill="#444" text-anchor="middle" >5:56PM</text><path d="M1361.5,546.8 L1368.5,546.8 L1371.5,544.1999999999999 L1374.5,546.8 L1381.5,546.8 M1365.8,544 A5.7,5.7 0 0 1 1377.2,544 M1371.5,534 L1371.5,536.6 M1364.7,536.8 L1366.6,538.6 M1378.3,536.8 L1376.4,538.6 M1361.5,543.6 L1364.5,543.6 M1378.5,543.6 L1381.5,543.6" fill="none" stroke="#333" stroke-width="1.3"/><text x="1371.50" y="564.80" font-size="12.5" font-weight="400" fill="#444" text-anchor="middle" >7:14AM</text><path d="M1421.5,546.8 L1428.5,546.8 L1431.5,549.5999999999999 L1434.5,546.8 L1441.5,546.8 M1425.8,544 A5.7,5.7 0 0 1 1437.2,544 M1431.5,534 L1431.5,536.6 M1424.7,536.8 L1426.6,538.6 M1438.3,536.8 L1436.4,538.6 M1421.5,543.6 L1424.5,543.6 M1438.5,543.6 L1441.5,543.6" fill="none" stroke="#333" stroke-width="1.3"/><text x="1431.50" y="564.80" font-size="12.5" font-weight="400" fill="#444" text-anchor="middle" >5:57PM</text><path d="M1601.5,546.8 L1608.5,546.8 L1611.5,544.1999999999999 L1614.5,546.8 L1621.5,546.8 M1605.8,544 A5.7,5.7 0 0 1 1617.2,544 M1611.5,534 L1611.5,536.6 M1604.7,536.8 L1606.6,538.6 M1618.3,536.8 L1616.4,538.6 M1601.5,543.6 L1604.5,543.6 M1618.5,543.6 L1621.5,543.6" fill="none" stroke="#333" stroke-width="1.3"/><text x="1611.50" y="564.80" font-size="12.5" font-weight="400" fill="#444" text-anchor="middle" >7:13AM</text><path d="M1661.5,546.8 L1668.5,546.8 L1671.5,549.5999999999999 L1674.5,546.8 L1681.5,546.8 M1665.8,544 A5.7,5.7 0 0 1 1677.2,544 M1671.5,534 L1671.5,536.6 M1664.7,536.8 L1666.6,538.6 M1678.3,536.8 L1676.4,538.6 M1661.5,543.6 L1664.5,543.6 M1678.5,543.6 L1681.5,543.6" fill="none" stroke="#333" stroke-width="1.3"/><text x="1671.50" y="564.80" font-size="12.5" font-weight="400" fill="#444" text-anchor="middle" >5:58PM</text><ellipse cx="101.4" cy="591.5" rx="9.9" ry="10.1" fill="#fff" stroke="#222" stroke-width="1.2"/><path d="M101.4,581.4 A9.9,10.1 0 0 0 101.4,601.6 A5.90,10.1 0 0 1 101.4,581.4 Z" fill="#999" stroke="#222" stroke-width="0.9"/><path d="M90.0,625.8 L97.0,625.8 L100.0,628.5999999999999 L103.0,625.8 L110.0,625.8 M93.0,623 A7,7.5 0 0 1 107.0,623" fill="none" stroke="#333" stroke-width="1.3"/><text x="100.00" y="643.70" font-size="12.5" font-weight="400" fill="#444" text-anchor="middle" >5:34AM</text><ellipse cx="221.9" cy="591.5" rx="9.9" ry="10.1" fill="#fff" stroke="#222" stroke-width="1.2"/><path d="M221.9,581.4 A9.9,10.1 0 0 0 221.9,601.6 A6.40,10.1 0 0 1 221.9,581.4 Z" fill="#999" stroke="#222" stroke-width="0.9"/><path d="M210.5,625.8 L217.5,625.8 L220.5,623.1999999999999 L223.5,625.8 L230.5,625.8 M213.5,623 A7,7.5 0 0 1 227.5,623" fill="none" stroke="#333" stroke-width="1.3"/><text x="220.50" y="643.70" font-size="12.5" font-weight="400" fill="#444" text-anchor="middle" >3:24PM</text><ellipse cx="402.9" cy="591.5" rx="9.9" ry="10.1" fill="#fff" stroke="#222" stroke-width="1.2"/><path d="M402.9,581.4 A9.9,10.1 0 0 0 402.9,601.6 A7.40,10.1 0 0 1 402.9,581.4 Z" fill="#999" stroke="#222" stroke-width="0.9"/><path d="M391.5,625.8 L398.5,625.8 L401.5,628.5999999999999 L404.5,625.8 L411.5,625.8 M394.5,623 A7,7.5 0 0 1 408.5,623" fill="none" stroke="#333" stroke-width="1.3"/><text x="401.50" y="643.70" font-size="12.5" font-weight="400" fill="#444" text-anchor="middle" >6:28AM</text><ellipse cx="463.9" cy="591.5" rx="9.9" ry="10.1" fill="#fff" stroke="#222" stroke-width="1.2"/><path d="M463.9,581.4 A9.9,10.1 0 0 0 463.9,601.6 A7.90,10.1 0 0 1 463.9,581.4 Z" fill="#999" stroke="#222" stroke-width="0.9"/><path d="M452.5,625.8 L459.5,625.8 L462.5,623.1999999999999 L465.5,625.8 L472.5,625.8 M455.5,623 A7,7.5 0 0 1 469.5,623" fill="none" stroke="#333" stroke-width="1.3"/><text x="462.50" y="643.70" font-size="12.5" font-weight="400" fill="#444" text-anchor="middle" >4:37PM</text><ellipse cx="643.9" cy="591.5" rx="9.9" ry="10.1" fill="#fff" stroke="#222" stroke-width="1.2"/><path d="M643.9,581.4 A9.9,10.1 0 0 0 643.9,601.6 A8.50,10.1 0 0 1 643.9,581.4 Z" fill="#999" stroke="#222" stroke-width="0.9"/><path d="M632.5,625.8 L639.5,625.8 L642.5,628.5999999999999 L645.5,625.8 L652.5,625.8 M635.5,623 A7,7.5 0 0 1 649.5,623" fill="none" stroke="#333" stroke-width="1.3"/><text x="642.50" y="643.70" font-size="12.5" font-weight="400" fill="#444" text-anchor="middle" >7:13AM</text><ellipse cx="703.9" cy="591.5" rx="9.9" ry="10.1" fill="#fff" stroke="#222" stroke-width="1.2"/><path d="M703.9,581.4 A9.9,10.1 0 0 0 703.9,601.6 A9.10,10.1 0 0 1 703.9,581.4 Z" fill="#999" stroke="#222" stroke-width="0.9"/><path d="M692.5,625.8 L699.5,625.8 L702.5,623.1999999999999 L705.5,625.8 L712.5,625.8 M695.5,623 A7,7.5 0 0 1 709.5,623" fill="none" stroke="#333" stroke-width="1.3"/><text x="702.50" y="643.70" font-size="12.5" font-weight="400" fill="#444" text-anchor="middle" >5:48PM</text><ellipse cx="888.9" cy="591.5" rx="9.9" ry="10.1" fill="#fff" stroke="#222" stroke-width="1.2"/><path d="M877.5,625.8 L884.5,625.8 L887.5,628.5999999999999 L890.5,625.8 L897.5,625.8 M880.5,623 A7,7.5 0 0 1 894.5,623" fill="none" stroke="#333" stroke-width="1.3"/><text x="887.50" y="643.70" font-size="12.5" font-weight="400" fill="#444" text-anchor="middle" >7:50AM</text><ellipse cx="1009.9" cy="591.5" rx="9.9" ry="10.1" fill="#fff" stroke="#222" stroke-width="1.2"/><path d="M998.5,625.8 L1005.5,625.8 L1008.5,623.1999999999999 L1011.5,625.8 L1018.5,625.8 M1001.5,623 A7,7.5 0 0 1 1015.5,623" fill="none" stroke="#333" stroke-width="1.3"/><text x="1008.50" y="643.70" font-size="12.5" font-weight="400" fill="#444" text-anchor="middle" >6:57PM</text><ellipse cx="1132.9" cy="591.5" rx="9.9" ry="10.1" fill="#fff" stroke="#222" stroke-width="1.2"/><path d="M1132.9,581.4 A9.9,10.1 0 0 1 1132.9,601.6 A9.30,10.1 0 0 0 1132.9,581.4 Z" fill="#999" stroke="#222" stroke-width="0.9"/><path d="M1121.5,625.8 L1128.5,625.8 L1131.5,628.5999999999999 L1134.5,625.8 L1141.5,625.8 M1124.5,623 A7,7.5 0 0 1 1138.5,623" fill="none" stroke="#333" stroke-width="1.3"/><text x="1131.50" y="643.70" font-size="12.5" font-weight="400" fill="#444" text-anchor="middle" >8:21AM</text><ellipse cx="1252.9" cy="591.5" rx="9.9" ry="10.1" fill="#fff" stroke="#222" stroke-width="1.2"/><path d="M1252.9,581.4 A9.9,10.1 0 0 1 1252.9,601.6 A8.50,10.1 0 0 0 1252.9,581.4 Z" fill="#999" stroke="#222" stroke-width="0.9"/><path d="M1241.5,625.8 L1248.5,625.8 L1251.5,623.1999999999999 L1254.5,625.8 L1261.5,625.8 M1244.5,623 A7,7.5 0 0 1 1258.5,623" fill="none" stroke="#333" stroke-width="1.3"/><text x="1251.50" y="643.70" font-size="12.5" font-weight="400" fill="#444" text-anchor="middle" >8:01PM</text><ellipse cx="1372.9" cy="591.5" rx="9.9" ry="10.1" fill="#fff" stroke="#222" stroke-width="1.2"/><path d="M1372.9,581.4 A9.9,10.1 0 0 1 1372.9,601.6 A7.90,10.1 0 0 0 1372.9,581.4 Z" fill="#999" stroke="#222" stroke-width="0.9"/><path d="M1361.5,625.8 L1368.5,625.8 L1371.5,628.5999999999999 L1374.5,625.8 L1381.5,625.8 M1364.5,623 A7,7.5 0 0 1 1378.5,623" fill="none" stroke="#333" stroke-width="1.3"/><text x="1371.50" y="643.70" font-size="12.5" font-weight="400" fill="#444" text-anchor="middle" >8:50AM</text><ellipse cx="1492.9" cy="591.5" rx="9.9" ry="10.1" fill="#fff" stroke="#222" stroke-width="1.2"/><path d="M1492.9,581.4 A9.9,10.1 0 0 1 1492.9,601.6 A7.30,10.1 0 0 0 1492.9,581.4 Z" fill="#999" stroke="#222" stroke-width="0.9"/><path d="M1481.5,625.8 L1488.5,625.8 L1491.5,623.1999999999999 L1494.5,625.8 L1501.5,625.8 M1484.5,623 A7,7.5 0 0 1 1498.5,623" fill="none" stroke="#333" stroke-width="1.3"/><text x="1491.50" y="643.70" font-size="12.5" font-weight="400" fill="#444" text-anchor="middle" >9:03PM</text><ellipse cx="1612.9" cy="591.5" rx="9.9" ry="10.1" fill="#fff" stroke="#222" stroke-width="1.2"/><path d="M1612.9,581.4 A9.9,10.1 0 0 1 1612.9,601.6 A6.90,10.1 0 0 0 1612.9,581.4 Z" fill="#999" stroke="#222" stroke-width="0.9"/><path d="M1601.5,625.8 L1608.5,625.8 L1611.5,628.5999999999999 L1614.5,625.8 L1621.5,625.8 M1604.5,623 A7,7.5 0 0 1 1618.5,623" fill="none" stroke="#333" stroke-width="1.3"/><text x="1611.50" y="643.70" font-size="12.5" font-weight="400" fill="#444" text-anchor="middle" >9:16AM</text><ellipse cx="1732.9" cy="591.5" rx="9.9" ry="10.1" fill="#fff" stroke="#222" stroke-width="1.2"/><path d="M1732.9,581.4 A9.9,10.1 0 0 1 1732.9,601.6 A6.10,10.1 0 0 0 1732.9,581.4 Z" fill="#999" stroke="#222" stroke-width="0.9"/><path d="M1721.5,625.8 L1728.5,625.8 L1731.5,623.1999999999999 L1734.5,625.8 L1741.5,625.8 M1724.5,623 A7,7.5 0 0 1 1738.5,623" fill="none" stroke="#333" stroke-width="1.3"/><text x="1731.50" y="643.70" font-size="12.5" font-weight="400" fill="#444" text-anchor="middle" >10:02PM</text><g transform="translate(100.00,676) rotate(270)"><rect x="-2" y="-15" width="4" height="10" fill="#000"/><path d="M-6.5,-13.5 L6.5,-13.5 L0,-19.5 Z" fill="#000"/></g><circle cx="100.00" cy="676" r="10" fill="#000"/><text x="100.00" y="680.90" font-size="13.5" font-weight="400" fill="#ffffff" text-anchor="middle" >5</text><g transform="translate(160.50,676) rotate(225)"><rect x="-2" y="-15" width="4" height="10" fill="#000"/><path d="M-6.5,-13.5 L6.5,-13.5 L0,-19.5 Z" fill="#000"/></g><circle cx="160.50" cy="676" r="10" fill="#000"/><text x="160.50" y="680.90" font-size="13.5" font-weight="400" fill="#ffffff" text-anchor="middle" >5</text><g transform="translate(220.50,676) rotate(0)"><rect x="-2" y="-15" width="4" height="10" fill="#000"/><path d="M-6.5,-13.5 L6.5,-13.5 L0,-19.5 Z" fill="#000"/></g><circle cx="220.50" cy="676" r="10" fill="#000"/><text x="220.50" y="680.90" font-size="13.5" font-weight="400" fill="#ffffff" text-anchor="middle" >5</text><g transform="translate(280.50,676) rotate(225)"><rect x="-2" y="-15" width="4" height="10" fill="#000"/><path d="M-6.5,-13.5 L6.5,-13.5 L0,-19.5 Z" fill="#000"/></g><circle cx="280.50" cy="676" r="10" fill="#000"/><text x="280.50" y="680.90" font-size="13.5" font-weight="400" fill="#ffffff" text-anchor="middle" >5</text><g transform="translate(340.50,676) rotate(225)"><rect x="-2" y="-15" width="4" height="10" fill="#000"/><path d="M-6.5,-13.5 L6.5,-13.5 L0,-19.5 Z" fill="#000"/></g><circle cx="340.50" cy="676" r="10" fill="#000"/><text x="340.50" y="680.90" font-size="13.5" font-weight="400" fill="#ffffff" text-anchor="middle" >5</text><g transform="translate(401.50,676) rotate(200)"><rect x="-2" y="-15" width="4" height="10" fill="#000"/><path d="M-6.5,-13.5 L6.5,-13.5 L0,-19.5 Z" fill="#000"/></g><circle cx="401.50" cy="676" r="10" fill="#000"/><text x="401.50" y="680.90" font-size="13.5" font-weight="400" fill="#ffffff" text-anchor="middle" >5</text><g transform="translate(462.50,676) rotate(160)"><rect x="-2" y="-15" width="4" height="10" fill="#000"/><path d="M-6.5,-13.5 L6.5,-13.5 L0,-19.5 Z" fill="#000"/></g><circle cx="462.50" cy="676" r="10" fill="#000"/><text x="462.50" y="680.90" font-size="13.5" font-weight="400" fill="#ffffff" text-anchor="middle" >5</text><g transform="translate(522.50,676) rotate(155)"><rect x="-2" y="-15" width="4" height="10" fill="#000"/><path d="M-6.5,-13.5 L6.5,-13.5 L0,-19.5 Z" fill="#000"/></g><circle cx="522.50" cy="676" r="10" fill="#000"/><text x="522.50" y="680.90" font-size="13.5" font-weight="400" fill="#00e000" text-anchor="middle" textLength="13" lengthAdjust="spacingAndGlyphs" >10</text><g transform="translate(582.50,676) rotate(150)"><rect x="-2" y="-15" width="4" height="10" fill="#000"/><path d="M-6.5,-13.5 L6.5,-13.5 L0,-19.5 Z" fill="#000"/></g><circle cx="582.50" cy="676" r="10" fill="#000"/><text x="582.50" y="680.90" font-size="13.5" font-weight="400" fill="#00e000" text-anchor="middle" textLength="13" lengthAdjust="spacingAndGlyphs" >10</text><g transform="translate(642.50,676) rotate(135)"><rect x="-2" y="-15" width="4" height="10" fill="#000"/><path d="M-6.5,-13.5 L6.5,-13.5 L0,-19.5 Z" fill="#000"/></g><circle cx="642.50" cy="676" r="10" fill="#000"/><text x="642.50" y="680.90" font-size="13.5" font-weight="400" fill="#00e000" text-anchor="middle" textLength="13" lengthAdjust="spacingAndGlyphs" >10</text><g transform="translate(702.50,676) rotate(135)"><rect x="-2" y="-15" width="4" height="10" fill="#000"/><path d="M-6.5,-13.5 L6.5,-13.5 L0,-19.5 Z" fill="#000"/></g><circle cx="702.50" cy="676" r="10" fill="#000"/><text x="702.50" y="680.90" font-size="13.5" font-weight="400" fill="#00e000" text-anchor="middle" textLength="13" lengthAdjust="spacingAndGlyphs" >10</text><g transform="translate(762.50,676) rotate(135)"><rect x="-2" y="-15" width="4" height="10" fill="#000"/><path d="M-6.5,-13.5 L6.5,-13.5 L0,-19.5 Z" fill="#000"/></g><circle cx="762.50" cy="676" r="10" fill="#000"/><text x="762.50" y="680.90" font-size="13.5" font-weight="400" fill="#ffffff" text-anchor="middle" >5</text><g transform="translate(825.00,676) rotate(140)"><rect x="-2" y="-15" width="4" height="10" fill="#000"/><path d="M-6.5,-13.5 L6.5,-13.5 L0,-19.5 Z" fill="#000"/></g><circle cx="825.00" cy="676" r="10" fill="#000"/><text x="825.00" y="680.90" font-size="13.5" font-weight="400" fill="#ffffff" text-anchor="middle" >5</text><g transform="translate(887.50,676) rotate(90)"><rect x="-2" y="-15" width="4" height="10" fill="#000"/><path d="M-6.5,-13.5 L6.5,-13.5 L0,-19.5 Z" fill="#000"/></g><circle cx="887.50" cy="676" r="10" fill="#000"/><text x="887.50" y="680.90" font-size="13.5" font-weight="400" fill="#ffffff" text-anchor="middle" >5</text><g transform="translate(948.00,676) rotate(90)"><rect x="-2" y="-15" width="4" height="10" fill="#000"/><path d="M-6.5,-13.5 L6.5,-13.5 L0,-19.5 Z" fill="#000"/></g><circle cx="948.00" cy="676" r="10" fill="#000"/><text x="948.00" y="680.90" font-size="13.5" font-weight="400" fill="#ffffff" text-anchor="middle" textLength="13" lengthAdjust="spacingAndGlyphs" >10</text><g transform="translate(1008.50,676) rotate(45)"><rect x="-2" y="-15" width="4" height="10" fill="#000"/><path d="M-6.5,-13.5 L6.5,-13.5 L0,-19.5 Z" fill="#000"/></g><circle cx="1008.50" cy="676" r="10" fill="#000"/><text x="1008.50" y="680.90" font-size="13.5" font-weight="400" fill="#ffffff" text-anchor="middle" >5</text><g transform="translate(1070.00,676) rotate(45)"><rect x="-2" y="-15" width="4" height="10" fill="#000"/><path d="M-6.5,-13.5 L6.5,-13.5 L0,-19.5 Z" fill="#000"/></g><circle cx="1070.00" cy="676" r="10" fill="#000"/><text x="1070.00" y="680.90" font-size="13.5" font-weight="400" fill="#ffffff" text-anchor="middle" >5</text><g transform="translate(1131.50,676) rotate(135)"><rect x="-2" y="-15" width="4" height="10" fill="#000"/><path d="M-6.5,-13.5 L6.5,-13.5 L0,-19.5 Z" fill="#000"/></g><circle cx="1131.50" cy="676" r="10" fill="#000"/><text x="1131.50" y="680.90" font-size="13.5" font-weight="400" fill="#ffffff" text-anchor="middle" >5</text><g transform="translate(1191.50,676) rotate(115)"><rect x="-2" y="-15" width="4" height="10" fill="#000"/><path d="M-6.5,-13.5 L6.5,-13.5 L0,-19.5 Z" fill="#000"/></g><circle cx="1191.50" cy="676" r="10" fill="#000"/><text x="1191.50" y="680.90" font-size="13.5" font-weight="400" fill="#ffffff" text-anchor="middle" >5</text><g transform="translate(1251.50,676) rotate(315)"><rect x="-2" y="-15" width="4" height="10" fill="#000"/><path d="M-6.5,-13.5 L6.5,-13.5 L0,-19.5 Z" fill="#000"/></g><circle cx="1251.50" cy="676" r="10" fill="#000"/><text x="1251.50" y="680.90" font-size="13.5" font-weight="400" fill="#ffffff" text-anchor="middle" >5</text><g transform="translate(1311.50,676) rotate(315)"><rect x="-2" y="-15" width="4" height="10" fill="#000"/><path d="M-6.5,-13.5 L6.5,-13.5 L0,-19.5 Z" fill="#000"/></g><circle cx="1311.50" cy="676" r="10" fill="#000"/><text x="1311.50" y="680.90" font-size="13.5" font-weight="400" fill="#ffffff" text-anchor="middle" >5</text><g transform="translate(1371.50,676) rotate(30)"><rect x="-2" y="-15" width="4" height="10" fill="#000"/><path d="M-6.5,-13.5 L6.5,-13.5 L0,-19.5 Z" fill="#000"/></g><circle cx="1371.50" cy="676" r="10" fill="#000"/><text x="1371.50" y="680.90" font-size="13.5" font-weight="400" fill="#ffffff" text-anchor="middle" >5</text><g transform="translate(1431.50,676) rotate(30)"><rect x="-2" y="-15" width="4" height="10" fill="#000"/><path d="M-6.5,-13.5 L6.5,-13.5 L0,-19.5 Z" fill="#000"/></g><circle cx="1431.50" cy="676" r="10" fill="#000"/><text x="1431.50" y="680.90" font-size="13.5" font-weight="400" fill="#ffffff" text-anchor="middle" textLength="13" lengthAdjust="spacingAndGlyphs" >10</text><g transform="translate(1491.50,676) rotate(45)"><rect x="-2" y="-15" width="4" height="10" fill="#000"/><path d="M-6.5,-13.5 L6.5,-13.5 L0,-19.5 Z" fill="#000"/></g><circle cx="1491.50" cy="676" r="10" fill="#000"/><text x="1491.50" y="680.90" font-size="13.5" font-weight="400" fill="#ffffff" text-anchor="middle" >5</text><g transform="translate(1551.50,676) rotate(45)"><rect x="-2" y="-15" width="4" height="10" fill="#000"/><path d="M-6.5,-13.5 L6.5,-13.5 L0,-19.5 Z" fill="#000"/></g><circle cx="1551.50" cy="676" r="10" fill="#000"/><text x="1551.50" y="680.90" font-size="13.5" font-weight="400" fill="#ffffff" text-anchor="middle" >5</text><g transform="translate(1611.50,676) rotate(90)"><rect x="-2" y="-15" width="4" height="10" fill="#000"/><path d="M-6.5,-13.5 L6.5,-13.5 L0,-19.5 Z" fill="#000"/></g><circle cx="1611.50" cy="676" r="10" fill="#000"/><text x="1611.50" y="680.90" font-size="13.5" font-weight="400" fill="#ffffff" text-anchor="middle" textLength="13" lengthAdjust="spacingAndGlyphs" >10</text><g transform="translate(1671.50,676) rotate(135)"><rect x="-2" y="-15" width="4" height="10" fill="#000"/><path d="M-6.5,-13.5 L6.5,-13.5 L0,-19.5 Z" fill="#000"/></g><circle cx="1671.50" cy="676" r="10" fill="#000"/><text x="1671.50" y="680.90" font-size="13.5" font-weight="400" fill="#00e000" text-anchor="middle" textLength="13" lengthAdjust="spacingAndGlyphs" >10</text><g transform="translate(1731.50,676) rotate(135)"><rect x="-2" y="-15" width="4" height="10" fill="#000"/><path d="M-6.5,-13.5 L6.5,-13.5 L0,-19.5 Z" fill="#000"/></g><circle cx="1731.50" cy="676" r="10" fill="#000"/><text x="1731.50" y="680.90" font-size="13.5" font-weight="400" fill="#ffffff" text-anchor="middle" >5</text><svg x="70" y="700" width="59" height="58.7" viewBox="0 0 59 58.5" preserveAspectRatio="none" overflow="hidden"><use href="#w_npc"/></svg><svg x="131" y="700" width="59" height="58.7" viewBox="0 0 59 58.5" preserveAspectRatio="none" overflow="hidden"><use href="#w_dpc"/></svg><svg x="191" y="700" width="59" height="58.7" viewBox="0 0 59 58.5" preserveAspectRatio="none" overflow="hidden"><use href="#w_dpc"/></svg><svg x="251" y="700" width="59" height="58.7" viewBox="0 0 59 58.5" preserveAspectRatio="none" overflow="hidden"><use href="#w_npc"/></svg><svg x="311" y="700" width="59" height="58.7" viewBox="0 0 59 58.5" preserveAspectRatio="none" overflow="hidden"><use href="#w_npc"/></svg><svg x="372" y="700" width="59" height="58.7" viewBox="0 0 59 58.5" preserveAspectRatio="none" overflow="hidden"><use href="#w_cld"/></svg><svg x="433" y="700" width="59" height="58.7" viewBox="0 0 59 58.5" preserveAspectRatio="none" overflow="hidden"><use href="#w_cldsnow"/></svg><svg x="493" y="700" width="59" height="58.7" viewBox="0 0 59 58.5" preserveAspectRatio="none" overflow="hidden"><use href="#w_npcsnow"/></svg><svg x="553" y="700" width="59" height="58.7" viewBox="0 0 59 58.5" preserveAspectRatio="none" overflow="hidden"><use href="#w_npcsnow"/></svg><svg x="613" y="700" width="59" height="58.7" viewBox="0 0 59 58.5" preserveAspectRatio="none" overflow="hidden"><use href="#w_sun"/></svg><svg x="673" y="700" width="59" height="58.7" viewBox="0 0 59 58.5" preserveAspectRatio="none" overflow="hidden"><use href="#w_sun"/></svg><svg x="733" y="700" width="59" height="58.7" viewBox="0 0 59 58.5" preserveAspectRatio="none" overflow="hidden"><use href="#w_nclr"/></svg><svg x="795" y="700" width="59" height="58.7" viewBox="0 0 59 58.5" preserveAspectRatio="none" overflow="hidden"><use href="#w_nclr"/></svg><svg x="858" y="700" width="59" height="58.7" viewBox="0 0 59 58.5" preserveAspectRatio="none" overflow="hidden"><use href="#w_dpc"/></svg><svg x="918" y="700" width="59" height="58.7" viewBox="0 0 59 58.5" preserveAspectRatio="none" overflow="hidden"><use href="#w_sun"/></svg><svg x="979" y="700" width="59" height="58.7" viewBox="0 0 59 58.5" preserveAspectRatio="none" overflow="hidden"><use href="#w_nclr"/></svg><svg x="1040" y="700" width="59" height="58.7" viewBox="0 0 59 58.5" preserveAspectRatio="none" overflow="hidden"><use href="#w_nclr"/></svg><svg x="1102" y="700" width="59" height="58.7" viewBox="0 0 59 58.5" preserveAspectRatio="none" overflow="hidden"><use href="#w_sun"/></svg><svg x="1162" y="700" width="59" height="58.7" viewBox="0 0 59 58.5" preserveAspectRatio="none" overflow="hidden"><use href="#w_cld"/></svg><svg x="1222" y="700" width="59" height="58.7" viewBox="0 0 59 58.5" preserveAspectRatio="none" overflow="hidden"><use href="#w_npc"/></svg><svg x="1282" y="700" width="59" height="58.7" viewBox="0 0 59 58.5" preserveAspectRatio="none" overflow="hidden"><use href="#w_npc"/></svg><svg x="1342" y="700" width="59" height="58.7" viewBox="0 0 59 58.5" preserveAspectRatio="none" overflow="hidden"><use href="#w_dpc"/></svg><svg x="1402" y="700" width="59" height="58.7" viewBox="0 0 59 58.5" preserveAspectRatio="none" overflow="hidden"><use href="#w_dpc"/></svg><svg x="1462" y="700" width="59" height="58.7" viewBox="0 0 59 58.5" preserveAspectRatio="none" overflow="hidden"><use href="#w_nrain"/></svg><svg x="1522" y="700" width="59" height="58.7" viewBox="0 0 59 58.5" preserveAspectRatio="none" overflow="hidden"><use href="#w_nrain"/></svg><svg x="1582" y="700" width="59" height="58.7" viewBox="0 0 59 58.5" preserveAspectRatio="none" overflow="hidden"><use href="#w_dpc"/></svg><svg x="1642" y="700" width="59" height="58.7" viewBox="0 0 59 58.5" preserveAspectRatio="none" overflow="hidden"><use href="#w_dpc"/></svg><svg x="1702" y="700" width="59" height="58.7" viewBox="0 0 59 58.5" preserveAspectRatio="none" overflow="hidden"><use href="#w_npc"/></svg><text x="25.00" y="779.00" font-size="15" font-weight="400" fill="#e6e6e6" text-anchor="start" textLength="220" lengthAdjust="spacingAndGlyphs" >Powered by Tide-Forecast.com</text><rect x="253.0" y="766" width="15.6" height="15.2" fill="#e9e9e9"/><rect x="271.6" y="766" width="15.6" height="15.2" fill="#e9e9e9"/><rect x="290.2" y="766" width="15.6" height="15.2" fill="#e9e9e9"/><path d="M254,767 C256,767 258,780 260.5,780 C263,780 264,767 267.5,767" fill="none" stroke="#f6f6f6" stroke-width="1"/><path d="M274.1,771.5 L279.6,771.5 L279.6,776.5 M277.1,774.5 L279.6,777 L282.1,774.5" fill="none" stroke="#f6f6f6" stroke-width="1"/><path d="M298.0,768.5 L301.7,779 L294.2,779 Z" fill="#f6f6f6"/><text x="365.00" y="779.00" font-size="15" font-weight="400" fill="#e6e6e6" text-anchor="start" textLength="220" lengthAdjust="spacingAndGlyphs" >Powered by Tide-Forecast.com</text><rect x="593.0" y="766" width="15.6" height="15.2" fill="#e9e9e9"/><rect x="611.6" y="766" width="15.6" height="15.2" fill="#e9e9e9"/><rect x="630.2" y="766" width="15.6" height="15.2" fill="#e9e9e9"/><path d="M594,767 C596,767 598,780 600.5,780 C603,780 604,767 607.5,767" fill="none" stroke="#f6f6f6" stroke-width="1"/><path d="M614.1,771.5 L619.6,771.5 L619.6,776.5 M617.1,774.5 L619.6,777 L622.1,774.5" fill="none" stroke="#f6f6f6" stroke-width="1"/><path d="M638.0,768.5 L641.7,779 L634.2,779 Z" fill="#f6f6f6"/><text x="705.00" y="779.00" font-size="15" font-weight="400" fill="#e6e6e6" text-anchor="start" textLength="220" lengthAdjust="spacingAndGlyphs" >Powered by Tide-Forecast.com</text><rect x="933.0" y="766" width="15.6" height="15.2" fill="#e9e9e9"/><rect x="951.6" y="766" width="15.6" height="15.2" fill="#e9e9e9"/><rect x="970.2" y="766" width="15.6" height="15.2" fill="#e9e9e9"/><path d="M934,767 C936,767 938,780 940.5,780 C943,780 944,767 947.5,767" fill="none" stroke="#f6f6f6" stroke-width="1"/><path d="M954.1,771.5 L959.6,771.5 L959.6,776.5 M957.1,774.5 L959.6,777 L962.1,774.5" fill="none" stroke="#f6f6f6" stroke-width="1"/><path d="M978.0,768.5 L981.7,779 L974.2,779 Z" fill="#f6f6f6"/><text x="1045.00" y="779.00" font-size="15" font-weight="400" fill="#e6e6e6" text-anchor="start" textLength="220" lengthAdjust="spacingAndGlyphs" >Powered by Tide-Forecast.com</text><rect x="1273.0" y="766" width="15.6" height="15.2" fill="#e9e9e9"/><rect x="1291.6" y="766" width="15.6" height="15.2" fill="#e9e9e9"/><rect x="1310.2" y="766" width="15.6" height="15.2" fill="#e9e9e9"/><path d="M1274,767 C1276,767 1278,780 1280.5,780 C1283,780 1284,767 1287.5,767" fill="none" stroke="#f6f6f6" stroke-width="1"/><path d="M1294.1,771.5 L1299.6,771.5 L1299.6,776.5 M1297.1,774.5 L1299.6,777 L1302.1,774.5" fill="none" stroke="#f6f6f6" stroke-width="1"/><path d="M1318.0,768.5 L1321.7,779 L1314.2,779 Z" fill="#f6f6f6"/><text x="1385.00" y="779.00" font-size="15" font-weight="400" fill="#e6e6e6" text-anchor="start" textLength="220" lengthAdjust="spacingAndGlyphs" >Powered by Tide-Forecast.com</text><rect x="1613.0" y="766" width="15.6" height="15.2" fill="#e9e9e9"/><rect x="1631.6" y="766" width="15.6" height="15.2" fill="#e9e9e9"/><rect x="1650.2" y="766" width="15.6" height="15.2" fill="#e9e9e9"/><path d="M1614,767 C1616,767 1618,780 1620.5,780 C1623,780 1624,767 1627.5,767" fill="none" stroke="#f6f6f6" stroke-width="1"/><path d="M1634.1,771.5 L1639.6,771.5 L1639.6,776.5 M1637.1,774.5 L1639.6,777 L1642.1,774.5" fill="none" stroke="#f6f6f6" stroke-width="1"/><path d="M1658.0,768.5 L1661.7,779 L1654.2,779 Z" fill="#f6f6f6"/><text x="1725.00" y="779.00" font-size="15" font-weight="400" fill="#e6e6e6" text-anchor="start" textLength="220" lengthAdjust="spacingAndGlyphs" >Powered by Tide-Forecast.com</text><rect x="1953.0" y="766" width="15.6" height="15.2" fill="#e9e9e9"/><rect x="1971.6" y="766" width="15.6" height="15.2" fill="#e9e9e9"/><rect x="1990.2" y="766" width="15.6" height="15.2" fill="#e9e9e9"/><path d="M1954,767 C1956,767 1958,780 1960.5,780 C1963,780 1964,767 1967.5,767" fill="none" stroke="#f6f6f6" stroke-width="1"/><path d="M1974.1,771.5 L1979.6,771.5 L1979.6,776.5 M1977.1,774.5 L1979.6,777 L1982.1,774.5" fill="none" stroke="#f6f6f6" stroke-width="1"/><path d="M1998.0,768.5 L2001.7,779 L1994.2,779 Z" fill="#f6f6f6"/><rect x="0" y="759.5" width="69" height="28" fill="#f4f4f4"/><rect x="69" y="121" width="1" height="666" fill="#7a7a7a"/></svg></body></html>
